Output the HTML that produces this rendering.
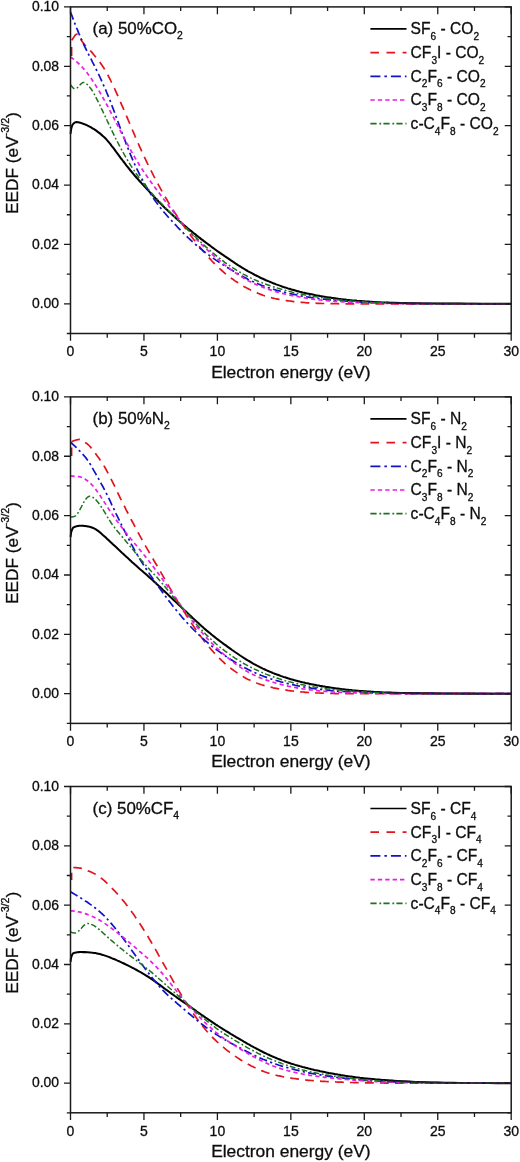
<!DOCTYPE html>
<html><head><meta charset="utf-8"><title>EEDF</title>
<style>html,body{margin:0;padding:0;background:#fff}svg{display:block}text{stroke:#0d0d0d;stroke-width:.3px}</style></head>
<body>
<svg width="520" height="1162" viewBox="0 0 520 1162" font-family="'Liberation Sans', Arial, sans-serif" fill="#0d0d0d">
<rect width="520" height="1162" fill="#fff"/>
<g id="p0">
<clipPath id="c0"><rect x="69.3" y="6.9" width="442.7" height="326.6"/></clipPath>
<g clip-path="url(#c0)" fill="none" stroke-linejoin="round">
<path d="M70.5 134.0 L70.8 131.5 L71.1 129.4 L71.4 128.0 L71.7 126.9 L72.0 126.0 L72.3 125.2 L72.6 124.7 L72.9 124.3 L73.1 124.0 L73.4 123.7 L73.7 123.4 L74.0 123.1 L74.3 122.9 L74.6 122.7 L74.9 122.5 L75.2 122.4 L75.5 122.3 L75.8 122.2 L76.1 122.1 L76.4 122.1 L76.7 122.1 L77.0 122.1 L77.3 122.1 L77.6 122.2 L77.8 122.2 L78.1 122.2 L78.4 122.3 L78.7 122.4 L79.0 122.4 L79.3 122.5 L79.6 122.6 L79.9 122.6 L80.2 122.7 L80.5 122.8 L80.8 122.9 L81.1 123.0 L81.4 123.1 L81.7 123.2 L82.0 123.3 L82.3 123.4 L82.5 123.5 L82.8 123.6 L83.1 123.7 L83.4 123.9 L83.7 124.0 L84.0 124.1 L84.3 124.2 L84.6 124.3 L84.9 124.4 L85.2 124.5 L86.7 125.1 L88.1 125.8 L89.6 126.6 L91.1 127.4 L92.5 128.3 L94.0 129.2 L95.5 130.2 L96.9 131.2 L98.4 132.3 L99.9 133.4 L101.3 134.6 L102.8 135.9 L104.3 137.2 L105.8 138.7 L107.2 140.4 L108.7 142.1 L110.2 143.9 L111.6 145.8 L113.1 147.7 L114.6 149.7 L116.0 151.7 L117.5 153.6 L119.0 155.6 L120.4 157.6 L121.9 159.5 L123.4 161.5 L124.9 163.4 L126.3 165.3 L127.8 167.1 L129.3 169.0 L130.7 170.8 L132.2 172.5 L133.7 174.3 L135.1 176.0 L136.6 177.7 L138.1 179.3 L139.5 181.0 L141.0 182.6 L142.5 184.2 L143.9 185.8 L145.4 187.4 L146.9 189.0 L148.4 190.6 L149.8 192.2 L151.3 193.8 L152.8 195.3 L154.2 196.9 L155.7 198.5 L157.2 200.0 L158.6 201.5 L160.1 203.0 L161.6 204.5 L163.0 206.0 L164.5 207.5 L166.0 208.9 L167.5 210.3 L168.9 211.7 L170.4 213.1 L171.9 214.4 L173.3 215.8 L174.8 217.1 L176.3 218.4 L177.7 219.7 L179.2 221.0 L180.7 222.2 L182.1 223.5 L183.6 224.8 L185.1 226.0 L186.6 227.2 L188.0 228.5 L189.5 229.7 L191.0 230.9 L192.4 232.1 L193.9 233.3 L195.4 234.4 L196.8 235.6 L198.3 236.8 L199.8 237.9 L201.2 239.1 L202.7 240.2 L204.2 241.3 L205.6 242.4 L207.1 243.5 L208.6 244.6 L210.1 245.7 L211.5 246.8 L213.0 247.9 L214.5 249.0 L215.9 250.0 L217.4 251.1 L218.9 252.1 L220.3 253.1 L221.8 254.2 L223.3 255.2 L224.7 256.2 L226.2 257.2 L227.7 258.2 L229.2 259.2 L230.6 260.2 L232.1 261.2 L233.6 262.2 L235.0 263.2 L236.5 264.1 L238.0 265.1 L239.4 266.0 L240.9 266.9 L242.4 267.8 L243.8 268.7 L245.3 269.6 L246.8 270.5 L248.2 271.3 L249.7 272.1 L251.2 272.9 L252.7 273.7 L254.1 274.5 L255.6 275.3 L257.1 276.0 L258.5 276.7 L260.0 277.5 L261.5 278.2 L262.9 278.8 L264.4 279.5 L265.9 280.2 L267.3 280.8 L268.8 281.4 L270.3 282.0 L271.8 282.6 L273.2 283.2 L274.7 283.8 L276.2 284.4 L277.6 284.9 L279.1 285.4 L280.6 285.9 L282.0 286.5 L283.5 287.0 L285.0 287.4 L286.4 287.9 L287.9 288.4 L289.4 288.8 L290.9 289.3 L292.3 289.7 L293.8 290.1 L295.3 290.5 L296.7 290.9 L298.2 291.3 L299.7 291.7 L301.1 292.0 L302.6 292.4 L304.1 292.7 L305.5 293.1 L307.0 293.4 L308.5 293.7 L309.9 294.0 L311.4 294.3 L312.9 294.6 L314.4 294.9 L315.8 295.2 L317.3 295.4 L318.8 295.7 L320.2 296.0 L321.7 296.2 L323.2 296.5 L324.6 296.7 L326.1 297.0 L327.6 297.2 L329.0 297.4 L330.5 297.6 L332.0 297.9 L333.5 298.1 L334.9 298.3 L336.4 298.5 L337.9 298.7 L339.3 298.9 L340.8 299.1 L342.3 299.2 L343.7 299.4 L345.2 299.6 L346.7 299.8 L348.1 299.9 L349.6 300.1 L351.1 300.2 L352.5 300.4 L354.0 300.5 L355.5 300.6 L357.0 300.8 L358.4 300.9 L359.9 301.0 L361.4 301.1 L362.8 301.2 L364.3 301.3 L365.8 301.4 L367.2 301.5 L368.7 301.6 L370.2 301.7 L371.6 301.8 L373.1 301.9 L374.6 302.0 L376.1 302.1 L377.5 302.2 L379.0 302.2 L380.5 302.3 L381.9 302.4 L383.4 302.4 L384.9 302.5 L386.3 302.6 L387.8 302.6 L389.3 302.7 L390.7 302.7 L392.2 302.8 L393.7 302.8 L401.0 303.0 L408.4 303.2 L415.7 303.3 L423.1 303.4 L430.4 303.4 L437.8 303.5 L445.1 303.6 L452.4 303.6 L459.8 303.6 L467.1 303.7 L474.5 303.7 L481.8 303.7 L489.2 303.8 L496.5 303.8 L503.9 303.8 L511.2 303.8" stroke="#000000" stroke-width="2.05"/>
<path d="M71.75 40.15 L72.0 39.8 L72.3 39.4 L72.6 39.0 L72.9 38.6 L73.1 38.2 L73.4 37.8 L73.7 37.4 L74.0 36.9 L74.3 36.4 L74.6 36.0 L74.9 35.6 L75.2 35.2 L75.5 34.8 L75.8 34.6 L76.1 34.4 L76.4 34.3 L76.7 34.2 L77.0 34.1 L77.3 34.0 L77.6 33.9 L77.8 33.9 L78.1 34.0 L78.4 34.4 L78.7 34.9 L79.0 35.6 L79.3 36.3 L79.6 37.0 L79.9 37.8 L80.2 38.4 L80.5 39.0 L80.8 39.4 L81.1 39.9 L81.4 40.3 L81.7 40.8 L82.0 41.2 L82.3 41.6 L82.5 42.0 L82.8 42.4 L83.1 42.7 L83.4 43.1 L83.7 43.5 L84.0 43.8 L84.3 44.2 L84.6 44.6 L84.9 44.9 L85.2 45.3 L86.7 46.9 L88.1 48.5 L89.6 50.0 L91.1 51.4 L92.5 53.1 L94.0 55.0 L95.5 56.8 L96.9 58.5 L98.4 60.3 L99.9 62.2 L101.3 64.3 L102.8 66.5 L104.3 68.8 L105.8 71.3 L107.2 73.9 L108.7 76.7 L110.2 79.5 L111.6 82.5 L113.1 85.6 L114.6 88.7 L116.0 91.9 L117.5 95.2 L119.0 98.5 L120.4 101.9 L121.9 105.3 L123.4 108.7 L124.9 112.1 L126.3 115.6 L127.8 119.1 L129.3 122.5 L130.7 126.0 L132.2 129.5 L133.7 132.9 L135.1 136.3 L136.6 139.7 L138.1 143.1 L139.5 146.4 L141.0 149.7 L142.5 152.9 L143.9 156.1 L145.4 159.2 L146.9 162.3 L148.4 165.3 L149.8 168.3 L151.3 171.2 L152.8 174.1 L154.2 176.9 L155.7 179.7 L157.2 182.5 L158.6 185.2 L160.1 187.9 L161.6 190.6 L163.0 193.2 L164.5 195.8 L166.0 198.3 L167.5 200.8 L168.9 203.3 L170.4 205.7 L171.9 208.1 L173.3 210.4 L174.8 212.7 L176.3 215.0 L177.7 217.2 L179.2 219.4 L180.7 221.6 L182.1 223.7 L183.6 225.8 L185.1 227.9 L186.6 230.0 L188.0 232.0 L189.5 233.9 L191.0 235.9 L192.4 237.8 L193.9 239.7 L195.4 241.6 L196.8 243.4 L198.3 245.3 L199.8 247.1 L201.2 248.8 L202.7 250.6 L204.2 252.3 L205.6 254.0 L207.1 255.7 L208.6 257.3 L210.1 258.9 L211.5 260.5 L213.0 262.1 L214.5 263.6 L215.9 265.0 L217.4 266.5 L218.9 267.9 L220.3 269.2 L221.8 270.5 L223.3 271.8 L224.7 273.1 L226.2 274.3 L227.7 275.4 L229.2 276.6 L230.6 277.7 L232.1 278.8 L233.6 279.8 L235.0 280.9 L236.5 281.8 L238.0 282.8 L239.4 283.8 L240.9 284.7 L242.4 285.5 L243.8 286.4 L245.3 287.2 L246.8 288.1 L248.2 288.8 L249.7 289.6 L251.2 290.3 L252.7 291.0 L254.1 291.7 L255.6 292.3 L257.1 292.9 L258.5 293.5 L260.0 294.1 L261.5 294.6 L262.9 295.2 L264.4 295.7 L265.9 296.1 L267.3 296.6 L268.8 297.0 L270.3 297.4 L271.8 297.8 L273.2 298.1 L274.7 298.5 L276.2 298.8 L277.6 299.1 L279.1 299.4 L280.6 299.7 L282.0 299.9 L283.5 300.2 L285.0 300.4 L286.4 300.6 L287.9 300.8 L289.4 301.0 L290.9 301.2 L292.3 301.4 L293.8 301.6 L295.3 301.7 L296.7 301.9 L298.2 302.0 L299.7 302.2 L301.1 302.3 L302.6 302.4 L304.1 302.5 L305.5 302.7 L307.0 302.8 L308.5 302.8 L309.9 302.9 L311.4 303.0 L312.9 303.1 L314.4 303.2 L315.8 303.2 L317.3 303.3 L318.8 303.4 L320.2 303.4 L321.7 303.5 L323.2 303.5 L324.6 303.5 L326.1 303.6 L327.6 303.6 L329.0 303.6 L330.5 303.7 L332.0 303.7 L333.5 303.7 L334.9 303.7 L336.4 303.7 L337.9 303.7 L339.3 303.8 L340.8 303.8 L342.3 303.8 L343.7 303.8 L345.2 303.8 L346.7 303.8 L348.1 303.8 L349.6 303.8 L351.1 303.8 L352.5 303.8 L354.0 303.8 L355.5 303.8 L357.0 303.8 L358.4 303.8 L359.9 303.8 L361.4 303.8 L362.8 303.8 L364.3 303.8 L365.8 303.8 L367.2 303.8 L368.7 303.8 L370.2 303.8 L371.6 303.8 L373.1 303.8 L374.6 303.8 L376.1 303.8 L377.5 303.8 L379.0 303.8 L380.5 303.8 L381.9 303.8 L383.4 303.8 L384.9 303.8 L386.3 303.8 L387.8 303.8 L389.3 303.8 L390.7 303.8 L392.2 303.8 L393.7 303.8 L401.0 303.8 L408.4 303.8 L415.7 303.8 L423.1 303.8 L430.4 303.8 L437.8 303.8 L445.1 303.8 L452.4 303.8 L459.8 303.8 L467.1 303.8 L474.5 303.8 L481.8 303.8 L489.2 303.8 L496.5 303.8 L503.9 303.8 L511.2 303.8" stroke="#e3141e" stroke-width="1.7" stroke-dasharray="8.8 6.2"/>
<path d="M70.5 11.9 L70.8 12.8 L71.1 13.6 L71.4 14.4 L71.7 15.1 L72.0 15.9 L72.3 16.7 L72.6 17.5 L72.9 18.3 L73.1 19.1 L73.4 19.8 L73.7 20.6 L74.0 21.4 L74.3 22.1 L74.6 22.9 L74.9 23.6 L75.2 24.4 L75.5 25.1 L75.8 25.9 L76.1 26.6 L76.4 27.3 L76.7 28.1 L77.0 28.8 L77.3 29.5 L77.6 30.2 L77.8 30.9 L78.1 31.7 L78.4 32.4 L78.7 33.1 L79.0 33.8 L79.3 34.4 L79.6 35.1 L79.9 35.8 L80.2 36.5 L80.5 37.2 L80.8 37.9 L81.1 38.5 L81.4 39.2 L81.7 39.8 L82.0 40.5 L82.3 41.2 L82.5 41.8 L82.8 42.5 L83.1 43.1 L83.4 43.7 L83.7 44.4 L84.0 45.0 L84.3 45.6 L84.6 46.3 L84.9 46.9 L85.2 47.5 L86.7 50.6 L88.1 53.5 L89.6 56.4 L91.1 59.2 L92.5 62.1 L94.0 64.9 L95.5 67.9 L96.9 70.9 L98.4 73.9 L99.9 77.0 L101.3 80.2 L102.8 83.5 L104.3 86.8 L105.8 90.2 L107.2 93.7 L108.7 97.3 L110.2 101.0 L111.6 104.8 L113.1 108.6 L114.6 112.5 L116.0 116.5 L117.5 120.5 L119.0 124.5 L120.4 128.5 L121.9 132.4 L123.4 136.4 L124.9 140.3 L126.3 144.1 L127.8 147.9 L129.3 151.6 L130.7 155.1 L132.2 158.6 L133.7 162.0 L135.1 165.2 L136.6 168.4 L138.1 171.4 L139.5 174.3 L141.0 177.2 L142.5 180.0 L143.9 182.6 L145.4 185.2 L146.9 187.8 L148.4 190.2 L149.8 192.6 L151.3 194.9 L152.8 197.2 L154.2 199.4 L155.7 201.5 L157.2 203.5 L158.6 205.5 L160.1 207.4 L161.6 209.3 L163.0 211.1 L164.5 212.8 L166.0 214.5 L167.5 216.2 L168.9 217.8 L170.4 219.4 L171.9 221.0 L173.3 222.6 L174.8 224.2 L176.3 225.7 L177.7 227.3 L179.2 228.8 L180.7 230.3 L182.1 231.8 L183.6 233.3 L185.1 234.7 L186.6 236.2 L188.0 237.6 L189.5 239.0 L191.0 240.3 L192.4 241.7 L193.9 243.0 L195.4 244.3 L196.8 245.5 L198.3 246.8 L199.8 248.0 L201.2 249.2 L202.7 250.4 L204.2 251.6 L205.6 252.7 L207.1 253.8 L208.6 254.9 L210.1 256.0 L211.5 257.1 L213.0 258.1 L214.5 259.1 L215.9 260.1 L217.4 261.1 L218.9 262.1 L220.3 263.0 L221.8 264.0 L223.3 264.9 L224.7 265.8 L226.2 266.8 L227.7 267.7 L229.2 268.6 L230.6 269.5 L232.1 270.3 L233.6 271.2 L235.0 272.1 L236.5 272.9 L238.0 273.8 L239.4 274.6 L240.9 275.5 L242.4 276.3 L243.8 277.1 L245.3 277.8 L246.8 278.6 L248.2 279.4 L249.7 280.1 L251.2 280.8 L252.7 281.5 L254.1 282.1 L255.6 282.8 L257.1 283.4 L258.5 284.0 L260.0 284.6 L261.5 285.2 L262.9 285.7 L264.4 286.3 L265.9 286.8 L267.3 287.3 L268.8 287.8 L270.3 288.3 L271.8 288.8 L273.2 289.2 L274.7 289.6 L276.2 290.1 L277.6 290.5 L279.1 290.9 L280.6 291.3 L282.0 291.7 L283.5 292.1 L285.0 292.4 L286.4 292.8 L287.9 293.1 L289.4 293.5 L290.9 293.8 L292.3 294.1 L293.8 294.4 L295.3 294.7 L296.7 295.0 L298.2 295.3 L299.7 295.6 L301.1 295.9 L302.6 296.1 L304.1 296.4 L305.5 296.6 L307.0 296.9 L308.5 297.1 L309.9 297.3 L311.4 297.5 L312.9 297.8 L314.4 298.0 L315.8 298.2 L317.3 298.3 L318.8 298.5 L320.2 298.7 L321.7 298.9 L323.2 299.1 L324.6 299.2 L326.1 299.4 L327.6 299.6 L329.0 299.7 L330.5 299.9 L332.0 300.0 L333.5 300.2 L334.9 300.3 L336.4 300.4 L337.9 300.5 L339.3 300.7 L340.8 300.8 L342.3 300.9 L343.7 301.0 L345.2 301.1 L346.7 301.2 L348.1 301.3 L349.6 301.4 L351.1 301.5 L352.5 301.6 L354.0 301.7 L355.5 301.8 L357.0 301.8 L358.4 301.9 L359.9 302.0 L361.4 302.1 L362.8 302.1 L364.3 302.2 L365.8 302.3 L367.2 302.4 L368.7 302.4 L370.2 302.5 L371.6 302.5 L373.1 302.6 L374.6 302.6 L376.1 302.7 L377.5 302.7 L379.0 302.8 L380.5 302.8 L381.9 302.9 L383.4 302.9 L384.9 303.0 L386.3 303.0 L387.8 303.0 L389.3 303.1 L390.7 303.1 L392.2 303.2 L393.7 303.2 L401.0 303.3 L408.4 303.5 L415.7 303.6 L423.1 303.7 L430.4 303.7 L437.8 303.8 L445.1 303.8 L452.4 303.8 L459.8 303.8 L467.1 303.8 L474.5 303.8 L481.8 303.8 L489.2 303.8 L496.5 303.8 L503.9 303.8 L511.2 303.8" stroke="#1212c8" stroke-width="1.7" stroke-dasharray="8.2 3.3 2.2 3.3"/>
<path d="M70.5 57.1 L70.8 57.3 L71.1 57.5 L71.4 57.6 L71.7 57.8 L72.0 58.0 L72.3 58.3 L72.6 58.5 L72.9 58.7 L73.1 58.9 L73.4 59.1 L73.7 59.3 L74.0 59.6 L74.3 59.8 L74.6 60.0 L74.9 60.3 L75.2 60.5 L75.5 60.8 L75.8 61.0 L76.1 61.3 L76.4 61.5 L76.7 61.8 L77.0 62.0 L77.3 62.3 L77.6 62.6 L77.8 62.8 L78.1 63.1 L78.4 63.4 L78.7 63.7 L79.0 64.0 L79.3 64.2 L79.6 64.5 L79.9 64.8 L80.2 65.1 L80.5 65.4 L80.8 65.7 L81.1 66.0 L81.4 66.3 L81.7 66.6 L82.0 66.9 L82.3 67.2 L82.5 67.6 L82.8 67.9 L83.1 68.2 L83.4 68.5 L83.7 68.8 L84.0 69.2 L84.3 69.5 L84.6 69.8 L84.9 70.2 L85.2 70.5 L86.7 72.3 L88.1 74.2 L89.6 76.2 L91.1 78.3 L92.5 80.5 L94.0 82.8 L95.5 85.1 L96.9 87.5 L98.4 89.9 L99.9 92.4 L101.3 94.9 L102.8 97.5 L104.3 100.1 L105.8 102.8 L107.2 105.5 L108.7 108.3 L110.2 111.1 L111.6 113.9 L113.1 116.7 L114.6 119.5 L116.0 122.4 L117.5 125.2 L119.0 128.0 L120.4 130.9 L121.9 133.7 L123.4 136.5 L124.9 139.3 L126.3 142.0 L127.8 144.8 L129.3 147.5 L130.7 150.1 L132.2 152.8 L133.7 155.3 L135.1 157.9 L136.6 160.4 L138.1 162.8 L139.5 165.2 L141.0 167.5 L142.5 169.8 L143.9 172.0 L145.4 174.2 L146.9 176.3 L148.4 178.4 L149.8 180.4 L151.3 182.4 L152.8 184.4 L154.2 186.4 L155.7 188.4 L157.2 190.4 L158.6 192.3 L160.1 194.3 L161.6 196.3 L163.0 198.2 L164.5 200.2 L166.0 202.2 L167.5 204.1 L168.9 206.1 L170.4 208.0 L171.9 209.9 L173.3 211.8 L174.8 213.7 L176.3 215.6 L177.7 217.5 L179.2 219.3 L180.7 221.2 L182.1 223.0 L183.6 224.8 L185.1 226.5 L186.6 228.3 L188.0 230.0 L189.5 231.6 L191.0 233.3 L192.4 234.9 L193.9 236.5 L195.4 238.1 L196.8 239.6 L198.3 241.1 L199.8 242.6 L201.2 244.1 L202.7 245.5 L204.2 246.9 L205.6 248.3 L207.1 249.7 L208.6 251.1 L210.1 252.4 L211.5 253.7 L213.0 255.0 L214.5 256.3 L215.9 257.5 L217.4 258.8 L218.9 260.0 L220.3 261.2 L221.8 262.4 L223.3 263.6 L224.7 264.8 L226.2 266.0 L227.7 267.1 L229.2 268.2 L230.6 269.3 L232.1 270.4 L233.6 271.5 L235.0 272.5 L236.5 273.5 L238.0 274.5 L239.4 275.5 L240.9 276.4 L242.4 277.3 L243.8 278.2 L245.3 279.0 L246.8 279.9 L248.2 280.7 L249.7 281.4 L251.2 282.2 L252.7 282.9 L254.1 283.6 L255.6 284.3 L257.1 284.9 L258.5 285.5 L260.0 286.2 L261.5 286.7 L262.9 287.3 L264.4 287.9 L265.9 288.4 L267.3 288.9 L268.8 289.4 L270.3 289.9 L271.8 290.4 L273.2 290.8 L274.7 291.3 L276.2 291.7 L277.6 292.1 L279.1 292.5 L280.6 292.9 L282.0 293.3 L283.5 293.6 L285.0 294.0 L286.4 294.3 L287.9 294.6 L289.4 295.0 L290.9 295.3 L292.3 295.6 L293.8 295.9 L295.3 296.2 L296.7 296.4 L298.2 296.7 L299.7 297.0 L301.1 297.2 L302.6 297.5 L304.1 297.7 L305.5 298.0 L307.0 298.2 L308.5 298.4 L309.9 298.6 L311.4 298.9 L312.9 299.1 L314.4 299.3 L315.8 299.5 L317.3 299.6 L318.8 299.8 L320.2 300.0 L321.7 300.1 L323.2 300.3 L324.6 300.4 L326.1 300.6 L327.6 300.7 L329.0 300.9 L330.5 301.0 L332.0 301.1 L333.5 301.2 L334.9 301.3 L336.4 301.4 L337.9 301.5 L339.3 301.6 L340.8 301.7 L342.3 301.8 L343.7 301.9 L345.2 302.0 L346.7 302.1 L348.1 302.2 L349.6 302.2 L351.1 302.3 L352.5 302.4 L354.0 302.4 L355.5 302.5 L357.0 302.6 L358.4 302.6 L359.9 302.7 L361.4 302.7 L362.8 302.8 L364.3 302.8 L365.8 302.9 L367.2 302.9 L368.7 303.0 L370.2 303.0 L371.6 303.1 L373.1 303.1 L374.6 303.1 L376.1 303.2 L377.5 303.2 L379.0 303.2 L380.5 303.3 L381.9 303.3 L383.4 303.3 L384.9 303.3 L386.3 303.4 L387.8 303.4 L389.3 303.4 L390.7 303.4 L392.2 303.5 L393.7 303.5 L401.0 303.6 L408.4 303.6 L415.7 303.7 L423.1 303.7 L430.4 303.8 L437.8 303.8 L445.1 303.8 L452.4 303.8 L459.8 303.8 L467.1 303.8 L474.5 303.8 L481.8 303.8 L489.2 303.8 L496.5 303.8 L503.9 303.8 L511.2 303.8" stroke="#e81ee8" stroke-width="1.7" stroke-dasharray="4.2 3.2"/>
<path d="M70.5 84.7 L70.8 85.1 L71.1 85.5 L71.4 85.9 L71.7 86.3 L72.0 86.7 L72.3 87.1 L72.6 87.4 L72.9 87.7 L73.1 88.0 L73.4 88.2 L73.7 88.4 L74.0 88.6 L74.3 88.7 L74.6 88.8 L74.9 88.8 L75.2 88.8 L75.5 88.8 L75.8 88.7 L76.1 88.6 L76.4 88.4 L76.7 88.3 L77.0 88.0 L77.3 87.8 L77.6 87.5 L77.8 87.3 L78.1 87.0 L78.4 86.6 L78.7 86.3 L79.0 86.0 L79.3 85.7 L79.6 85.3 L79.9 85.0 L80.2 84.7 L80.5 84.4 L80.8 84.1 L81.1 83.8 L81.4 83.5 L81.7 83.3 L82.0 83.1 L82.3 82.9 L82.5 82.7 L82.8 82.6 L83.1 82.6 L83.4 82.5 L83.7 82.5 L84.0 82.6 L84.3 82.6 L84.6 82.7 L84.9 82.9 L85.2 83.0 L86.7 84.0 L88.1 85.4 L89.6 87.1 L91.1 89.0 L92.5 91.2 L94.0 93.7 L95.5 96.5 L96.9 99.3 L98.4 102.2 L99.9 105.2 L101.3 108.3 L102.8 111.4 L104.3 114.5 L105.8 117.7 L107.2 120.8 L108.7 123.9 L110.2 127.0 L111.6 130.1 L113.1 133.2 L114.6 136.2 L116.0 139.1 L117.5 142.0 L119.0 144.8 L120.4 147.6 L121.9 150.3 L123.4 153.0 L124.9 155.6 L126.3 158.2 L127.8 160.7 L129.3 163.1 L130.7 165.4 L132.2 167.7 L133.7 169.9 L135.1 172.1 L136.6 174.2 L138.1 176.3 L139.5 178.3 L141.0 180.2 L142.5 182.1 L143.9 184.0 L145.4 185.8 L146.9 187.6 L148.4 189.3 L149.8 191.1 L151.3 192.7 L152.8 194.4 L154.2 196.0 L155.7 197.6 L157.2 199.2 L158.6 200.7 L160.1 202.3 L161.6 203.8 L163.0 205.3 L164.5 206.7 L166.0 208.2 L167.5 209.6 L168.9 211.1 L170.4 212.6 L171.9 214.0 L173.3 215.5 L174.8 216.9 L176.3 218.4 L177.7 219.8 L179.2 221.3 L180.7 222.7 L182.1 224.2 L183.6 225.6 L185.1 227.1 L186.6 228.5 L188.0 230.0 L189.5 231.4 L191.0 232.8 L192.4 234.2 L193.9 235.6 L195.4 237.0 L196.8 238.4 L198.3 239.8 L199.8 241.2 L201.2 242.5 L202.7 243.9 L204.2 245.2 L205.6 246.6 L207.1 247.9 L208.6 249.2 L210.1 250.5 L211.5 251.7 L213.0 253.0 L214.5 254.2 L215.9 255.4 L217.4 256.6 L218.9 257.8 L220.3 258.9 L221.8 260.1 L223.3 261.2 L224.7 262.3 L226.2 263.3 L227.7 264.4 L229.2 265.4 L230.6 266.4 L232.1 267.4 L233.6 268.3 L235.0 269.2 L236.5 270.2 L238.0 271.1 L239.4 271.9 L240.9 272.8 L242.4 273.6 L243.8 274.4 L245.3 275.2 L246.8 276.0 L248.2 276.7 L249.7 277.4 L251.2 278.2 L252.7 278.8 L254.1 279.5 L255.6 280.1 L257.1 280.8 L258.5 281.4 L260.0 282.0 L261.5 282.5 L262.9 283.1 L264.4 283.7 L265.9 284.2 L267.3 284.7 L268.8 285.2 L270.3 285.7 L271.8 286.2 L273.2 286.7 L274.7 287.2 L276.2 287.6 L277.6 288.1 L279.1 288.5 L280.6 289.0 L282.0 289.4 L283.5 289.8 L285.0 290.2 L286.4 290.6 L287.9 291.0 L289.4 291.4 L290.9 291.8 L292.3 292.2 L293.8 292.5 L295.3 292.9 L296.7 293.2 L298.2 293.5 L299.7 293.8 L301.1 294.1 L302.6 294.4 L304.1 294.7 L305.5 295.0 L307.0 295.3 L308.5 295.5 L309.9 295.8 L311.4 296.1 L312.9 296.3 L314.4 296.5 L315.8 296.8 L317.3 297.0 L318.8 297.2 L320.2 297.5 L321.7 297.7 L323.2 297.9 L324.6 298.1 L326.1 298.3 L327.6 298.5 L329.0 298.7 L330.5 298.9 L332.0 299.1 L333.5 299.2 L334.9 299.4 L336.4 299.6 L337.9 299.7 L339.3 299.9 L340.8 300.0 L342.3 300.2 L343.7 300.3 L345.2 300.4 L346.7 300.6 L348.1 300.7 L349.6 300.8 L351.1 300.9 L352.5 301.1 L354.0 301.2 L355.5 301.3 L357.0 301.4 L358.4 301.5 L359.9 301.6 L361.4 301.7 L362.8 301.8 L364.3 301.9 L365.8 302.0 L367.2 302.1 L368.7 302.2 L370.2 302.2 L371.6 302.3 L373.1 302.4 L374.6 302.5 L376.1 302.5 L377.5 302.6 L379.0 302.7 L380.5 302.7 L381.9 302.8 L383.4 302.8 L384.9 302.9 L386.3 302.9 L387.8 303.0 L389.3 303.0 L390.7 303.1 L392.2 303.1 L393.7 303.2 L401.0 303.3 L408.4 303.5 L415.7 303.6 L423.1 303.7 L430.4 303.7 L437.8 303.8 L445.1 303.8 L452.4 303.8 L459.8 303.8 L467.1 303.8 L474.5 303.8 L481.8 303.8 L489.2 303.8 L496.5 303.8 L503.9 303.8 L511.2 303.8" stroke="#1c741c" stroke-width="1.5" stroke-dasharray="5.8 2.5 1.8 2.2"/>
<path d="M386.3 302.7 L393.7 302.9 L401.0 303.1 L408.4 303.2 L415.7 303.3 L423.1 303.4 L430.4 303.5 L437.8 303.5 L445.1 303.6 L452.4 303.6 L459.8 303.6 L467.1 303.7 L474.5 303.7 L481.8 303.8 L489.2 303.8 L496.5 303.8 L503.9 303.8 L511.2 303.8" stroke="#14141e" stroke-width="1.7" stroke-opacity="0.72"/>
<path d="M71.4 55.9V47.0" stroke="#cc0512" stroke-width="2"/>
</g>
<g stroke="#1a1a1a" stroke-width="1.5" fill="none">
<rect x="70.5" y="6.9" width="440.7" height="326.6"/>
<path d="M70.50 333.5v7.3M70.50 6.9v7.3M107.22 333.5v4.2M107.22 6.9v4.2M143.95 333.5v7.3M143.95 6.9v7.3M180.68 333.5v4.2M180.68 6.9v4.2M217.40 333.5v7.3M217.40 6.9v7.3M254.12 333.5v4.2M254.12 6.9v4.2M290.85 333.5v7.3M290.85 6.9v7.3M327.57 333.5v4.2M327.57 6.9v4.2M364.30 333.5v7.3M364.30 6.9v7.3M401.02 333.5v4.2M401.02 6.9v4.2M437.75 333.5v7.3M437.75 6.9v7.3M474.47 333.5v4.2M474.47 6.9v4.2M511.20 333.5v7.3M511.20 6.9v7.3M70.5 333.50h-3.7M511.2 333.50h-3.7M70.5 303.81h-6.5M511.2 303.81h-6.5M70.5 274.12h-3.7M511.2 274.12h-3.7M70.5 244.43h-6.5M511.2 244.43h-6.5M70.5 214.74h-3.7M511.2 214.74h-3.7M70.5 185.05h-6.5M511.2 185.05h-6.5M70.5 155.35h-3.7M511.2 155.35h-3.7M70.5 125.66h-6.5M511.2 125.66h-6.5M70.5 95.97h-3.7M511.2 95.97h-3.7M70.5 66.28h-6.5M511.2 66.28h-6.5M70.5 36.59h-3.7M511.2 36.59h-3.7M70.5 6.90h-6.5M511.2 6.90h-6.5" stroke-width="1.3"/>
</g>
<g font-size="14" text-anchor="middle">
<text x="70.5" y="356.3">0</text>
<text x="143.9" y="356.3">5</text>
<text x="217.4" y="356.3">10</text>
<text x="290.9" y="356.3">15</text>
<text x="364.3" y="356.3">20</text>
<text x="437.8" y="356.3">25</text>
<text x="511.2" y="356.3">30</text>
</g>
<g font-size="13.9" text-anchor="end">
<text x="59" y="308.1">0.00</text>
<text x="59" y="248.7">0.02</text>
<text x="59" y="189.3">0.04</text>
<text x="59" y="130.0">0.06</text>
<text x="59" y="70.6">0.08</text>
<text x="59" y="11.2">0.10</text>
</g>
<text x="290.9" y="377.5" font-size="17.4" text-anchor="middle">Electron energy (eV)</text>
<text transform="translate(17.7 163.1) rotate(-90)" font-size="17.3" text-anchor="middle">EEDF (eV<tspan font-size="10.7" dy="-9">-3/2</tspan><tspan dy="9">)</tspan></text>
<text x="92.6" y="33.9" font-size="16.9">(a) 50%CO<tspan font-size="10.4" dy="5.4">2</tspan></text>
<path d="M370.4 28.9H406.5" stroke="#000000" stroke-width="1.7" fill="none"/>
<text x="410.6" y="34.2" font-size="15.6">SF<tspan font-size="10.1" dy="5.8">6</tspan><tspan dy="-5.8"> - CO</tspan><tspan font-size="10.1" dy="5.8">2</tspan></text>
<path d="M370.4 52.6H406.5" stroke="#e3141e" stroke-width="1.7" fill="none" stroke-dasharray="8.6 7.5"/>
<text x="410.6" y="57.9" font-size="15.6">CF<tspan font-size="10.1" dy="5.8">3</tspan><tspan dy="-5.8">I</tspan> - CO<tspan font-size="10.1" dy="5.8">2</tspan></text>
<path d="M370.4 76.3H406.5" stroke="#1212c8" stroke-width="1.7" fill="none" stroke-dasharray="10 4 2.5 4"/>
<text x="410.6" y="81.6" font-size="15.6">C<tspan font-size="10.1" dy="5.8">2</tspan><tspan dy="-5.8">F</tspan><tspan font-size="10.1" dy="5.8">6</tspan><tspan dy="-5.8"> - CO</tspan><tspan font-size="10.1" dy="5.8">2</tspan></text>
<path d="M370.4 100.0H406.5" stroke="#e81ee8" stroke-width="1.7" fill="none" stroke-dasharray="4.4 3"/>
<text x="410.6" y="105.3" font-size="15.6">C<tspan font-size="10.1" dy="5.8">3</tspan><tspan dy="-5.8">F</tspan><tspan font-size="10.1" dy="5.8">8</tspan><tspan dy="-5.8"> - CO</tspan><tspan font-size="10.1" dy="5.8">2</tspan></text>
<path d="M370.4 123.7H406.5" stroke="#1c741c" stroke-width="1.7" fill="none" stroke-dasharray="6.2 2.8 1.8 2.2"/>
<text x="410.6" y="129.0" font-size="15.6">c-C<tspan font-size="10.1" dy="5.8">4</tspan><tspan dy="-5.8">F</tspan><tspan font-size="10.1" dy="5.8">8</tspan><tspan dy="-5.8"> - CO</tspan><tspan font-size="10.1" dy="5.8">2</tspan></text>
</g>
<g id="p1">
<clipPath id="c1"><rect x="69.3" y="396.9" width="442.7" height="326.5"/></clipPath>
<g clip-path="url(#c1)" fill="none" stroke-linejoin="round">
<path d="M70.5 537.0 L70.8 534.6 L71.1 532.6 L71.4 531.5 L71.7 530.6 L72.0 529.8 L72.3 529.1 L72.6 528.5 L72.9 528.0 L73.1 527.7 L73.4 527.5 L73.7 527.4 L74.0 527.2 L74.3 527.1 L74.6 527.0 L74.9 526.8 L75.2 526.7 L75.5 526.6 L75.8 526.5 L76.1 526.4 L76.4 526.3 L76.7 526.3 L77.0 526.2 L77.3 526.1 L77.6 526.0 L77.8 526.0 L78.1 525.9 L78.4 525.9 L78.7 525.9 L79.0 525.8 L79.3 525.8 L79.6 525.8 L79.9 525.7 L80.2 525.7 L80.5 525.7 L80.8 525.7 L81.1 525.7 L81.4 525.7 L81.7 525.7 L82.0 525.8 L82.3 525.8 L82.5 525.8 L82.8 525.8 L83.1 525.8 L83.4 525.8 L83.7 525.9 L84.0 525.9 L84.3 525.9 L84.6 526.0 L84.9 526.0 L85.2 526.0 L86.7 526.2 L88.1 526.5 L89.6 526.8 L91.1 527.2 L92.5 527.7 L94.0 528.4 L95.5 529.2 L96.9 530.1 L98.4 531.2 L99.9 532.3 L101.3 533.6 L102.8 534.9 L104.3 536.2 L105.8 537.6 L107.2 538.9 L108.7 540.3 L110.2 541.7 L111.6 543.0 L113.1 544.4 L114.6 545.8 L116.0 547.1 L117.5 548.5 L119.0 549.9 L120.4 551.3 L121.9 552.7 L123.4 554.0 L124.9 555.4 L126.3 556.8 L127.8 558.1 L129.3 559.5 L130.7 560.8 L132.2 562.2 L133.7 563.5 L135.1 564.8 L136.6 566.1 L138.1 567.4 L139.5 568.7 L141.0 570.0 L142.5 571.2 L143.9 572.5 L145.4 573.8 L146.9 575.1 L148.4 576.4 L149.8 577.7 L151.3 579.0 L152.8 580.3 L154.2 581.7 L155.7 583.0 L157.2 584.4 L158.6 585.8 L160.1 587.1 L161.6 588.5 L163.0 589.9 L164.5 591.3 L166.0 592.7 L167.5 594.1 L168.9 595.5 L170.4 596.9 L171.9 598.3 L173.3 599.7 L174.8 601.1 L176.3 602.4 L177.7 603.8 L179.2 605.2 L180.7 606.6 L182.1 608.0 L183.6 609.4 L185.1 610.8 L186.6 612.1 L188.0 613.5 L189.5 614.9 L191.0 616.3 L192.4 617.7 L193.9 619.1 L195.4 620.4 L196.8 621.8 L198.3 623.1 L199.8 624.5 L201.2 625.8 L202.7 627.1 L204.2 628.4 L205.6 629.6 L207.1 630.9 L208.6 632.1 L210.1 633.3 L211.5 634.5 L213.0 635.7 L214.5 636.9 L215.9 638.0 L217.4 639.2 L218.9 640.3 L220.3 641.4 L221.8 642.5 L223.3 643.6 L224.7 644.7 L226.2 645.7 L227.7 646.8 L229.2 647.9 L230.6 648.9 L232.1 650.0 L233.6 651.0 L235.0 652.0 L236.5 653.0 L238.0 654.0 L239.4 655.0 L240.9 656.0 L242.4 657.0 L243.8 657.9 L245.3 658.8 L246.8 659.8 L248.2 660.7 L249.7 661.5 L251.2 662.4 L252.7 663.3 L254.1 664.1 L255.6 664.9 L257.1 665.7 L258.5 666.4 L260.0 667.2 L261.5 667.9 L262.9 668.6 L264.4 669.3 L265.9 670.0 L267.3 670.6 L268.8 671.3 L270.3 671.9 L271.8 672.5 L273.2 673.1 L274.7 673.7 L276.2 674.3 L277.6 674.8 L279.1 675.3 L280.6 675.9 L282.0 676.4 L283.5 676.9 L285.0 677.3 L286.4 677.8 L287.9 678.3 L289.4 678.7 L290.9 679.2 L292.3 679.6 L293.8 680.0 L295.3 680.4 L296.7 680.8 L298.2 681.2 L299.7 681.6 L301.1 681.9 L302.6 682.3 L304.1 682.6 L305.5 683.0 L307.0 683.3 L308.5 683.6 L309.9 683.9 L311.4 684.2 L312.9 684.5 L314.4 684.8 L315.8 685.1 L317.3 685.4 L318.8 685.6 L320.2 685.9 L321.7 686.1 L323.2 686.4 L324.6 686.6 L326.1 686.9 L327.6 687.1 L329.0 687.3 L330.5 687.6 L332.0 687.8 L333.5 688.0 L334.9 688.2 L336.4 688.4 L337.9 688.6 L339.3 688.8 L340.8 689.0 L342.3 689.2 L343.7 689.3 L345.2 689.5 L346.7 689.7 L348.1 689.8 L349.6 690.0 L351.1 690.1 L352.5 690.3 L354.0 690.4 L355.5 690.5 L357.0 690.7 L358.4 690.8 L359.9 690.9 L361.4 691.0 L362.8 691.1 L364.3 691.2 L365.8 691.3 L367.2 691.4 L368.7 691.5 L370.2 691.6 L371.6 691.7 L373.1 691.8 L374.6 691.9 L376.1 692.0 L377.5 692.1 L379.0 692.1 L380.5 692.2 L381.9 692.3 L383.4 692.4 L384.9 692.4 L386.3 692.5 L387.8 692.5 L389.3 692.6 L390.7 692.6 L392.2 692.7 L393.7 692.7 L401.0 692.9 L408.4 693.1 L415.7 693.2 L423.1 693.3 L430.4 693.3 L437.8 693.4 L445.1 693.5 L452.4 693.5 L459.8 693.6 L467.1 693.6 L474.5 693.6 L481.8 693.7 L489.2 693.7 L496.5 693.7 L503.9 693.7 L511.2 693.7" stroke="#000000" stroke-width="2.05"/>
<path d="M71.53 441.72 L71.7 441.7 L72.0 441.5 L72.3 441.4 L72.6 441.3 L72.9 441.1 L73.1 441.0 L73.4 440.9 L73.7 440.8 L74.0 440.7 L74.3 440.6 L74.6 440.5 L74.9 440.4 L75.2 440.3 L75.5 440.2 L75.8 440.1 L76.1 440.0 L76.4 439.9 L76.7 439.9 L77.0 439.8 L77.3 439.8 L77.6 439.7 L77.8 439.6 L78.1 439.6 L78.4 439.5 L78.7 439.5 L79.0 439.4 L79.3 439.4 L79.6 439.4 L79.9 439.4 L80.2 439.4 L80.5 439.4 L80.8 439.5 L81.1 439.7 L81.4 439.9 L81.7 440.2 L82.0 440.4 L82.3 440.7 L82.5 440.9 L82.8 441.1 L83.1 441.2 L83.4 441.4 L83.7 441.6 L84.0 441.8 L84.3 441.9 L84.6 442.1 L84.9 442.3 L85.2 442.5 L86.7 443.4 L88.1 444.6 L89.6 446.0 L91.1 447.8 L92.5 449.7 L94.0 451.6 L95.5 453.5 L96.9 455.5 L98.4 457.5 L99.9 459.6 L101.3 461.8 L102.8 464.1 L104.3 466.4 L105.8 469.0 L107.2 471.6 L108.7 474.4 L110.2 477.3 L111.6 480.2 L113.1 483.2 L114.6 486.2 L116.0 489.3 L117.5 492.3 L119.0 495.3 L120.4 498.3 L121.9 501.3 L123.4 504.3 L124.9 507.2 L126.3 510.1 L127.8 513.0 L129.3 515.8 L130.7 518.7 L132.2 521.5 L133.7 524.2 L135.1 527.0 L136.6 529.8 L138.1 532.5 L139.5 535.2 L141.0 537.9 L142.5 540.6 L143.9 543.2 L145.4 545.8 L146.9 548.4 L148.4 550.9 L149.8 553.5 L151.3 556.0 L152.8 558.5 L154.2 561.0 L155.7 563.5 L157.2 566.0 L158.6 568.5 L160.1 571.0 L161.6 573.6 L163.0 576.1 L164.5 578.7 L166.0 581.3 L167.5 583.8 L168.9 586.4 L170.4 588.9 L171.9 591.5 L173.3 594.0 L174.8 596.5 L176.3 599.0 L177.7 601.5 L179.2 603.9 L180.7 606.4 L182.1 608.7 L183.6 611.1 L185.1 613.4 L186.6 615.7 L188.0 618.0 L189.5 620.2 L191.0 622.4 L192.4 624.6 L193.9 626.8 L195.4 628.9 L196.8 631.0 L198.3 633.0 L199.8 635.0 L201.2 637.0 L202.7 639.0 L204.2 640.9 L205.6 642.8 L207.1 644.6 L208.6 646.4 L210.1 648.2 L211.5 649.9 L213.0 651.5 L214.5 653.2 L215.9 654.7 L217.4 656.3 L218.9 657.7 L220.3 659.2 L221.8 660.6 L223.3 661.9 L224.7 663.3 L226.2 664.5 L227.7 665.8 L229.2 667.0 L230.6 668.1 L232.1 669.3 L233.6 670.4 L235.0 671.4 L236.5 672.4 L238.0 673.4 L239.4 674.4 L240.9 675.3 L242.4 676.2 L243.8 677.1 L245.3 677.9 L246.8 678.7 L248.2 679.4 L249.7 680.1 L251.2 680.8 L252.7 681.4 L254.1 682.1 L255.6 682.6 L257.1 683.2 L258.5 683.7 L260.0 684.2 L261.5 684.7 L262.9 685.1 L264.4 685.6 L265.9 686.0 L267.3 686.4 L268.8 686.7 L270.3 687.1 L271.8 687.4 L273.2 687.8 L274.7 688.1 L276.2 688.4 L277.6 688.7 L279.1 688.9 L280.6 689.2 L282.0 689.4 L283.5 689.7 L285.0 689.9 L286.4 690.1 L287.9 690.4 L289.4 690.6 L290.9 690.8 L292.3 691.0 L293.8 691.1 L295.3 691.3 L296.7 691.5 L298.2 691.6 L299.7 691.8 L301.1 691.9 L302.6 692.0 L304.1 692.1 L305.5 692.3 L307.0 692.4 L308.5 692.5 L309.9 692.6 L311.4 692.7 L312.9 692.7 L314.4 692.8 L315.8 692.9 L317.3 693.0 L318.8 693.0 L320.2 693.1 L321.7 693.2 L323.2 693.2 L324.6 693.3 L326.1 693.3 L327.6 693.4 L329.0 693.4 L330.5 693.5 L332.0 693.5 L333.5 693.5 L334.9 693.6 L336.4 693.6 L337.9 693.6 L339.3 693.6 L340.8 693.6 L342.3 693.7 L343.7 693.7 L345.2 693.7 L346.7 693.7 L348.1 693.7 L349.6 693.7 L351.1 693.7 L352.5 693.7 L354.0 693.7 L355.5 693.7 L357.0 693.7 L358.4 693.7 L359.9 693.7 L361.4 693.7 L362.8 693.7 L364.3 693.7 L365.8 693.7 L367.2 693.7 L368.7 693.7 L370.2 693.7 L371.6 693.7 L373.1 693.7 L374.6 693.7 L376.1 693.7 L377.5 693.7 L379.0 693.7 L380.5 693.7 L381.9 693.7 L383.4 693.7 L384.9 693.7 L386.3 693.7 L387.8 693.7 L389.3 693.7 L390.7 693.7 L392.2 693.7 L393.7 693.7 L401.0 693.7 L408.4 693.7 L415.7 693.7 L423.1 693.7 L430.4 693.7 L437.8 693.7 L445.1 693.7 L452.4 693.7 L459.8 693.7 L467.1 693.7 L474.5 693.7 L481.8 693.7 L489.2 693.7 L496.5 693.7 L503.9 693.7 L511.2 693.7" stroke="#e3141e" stroke-width="1.7" stroke-dasharray="8.8 6.2"/>
<path d="M70.5 442.3 L70.8 442.6 L71.1 442.8 L71.4 443.0 L71.7 443.3 L72.0 443.5 L72.3 443.8 L72.6 444.1 L72.9 444.3 L73.1 444.6 L73.4 444.8 L73.7 445.1 L74.0 445.4 L74.3 445.7 L74.6 445.9 L74.9 446.2 L75.2 446.5 L75.5 446.8 L75.8 447.0 L76.1 447.3 L76.4 447.6 L76.7 447.9 L77.0 448.2 L77.3 448.5 L77.6 448.8 L77.8 449.1 L78.1 449.4 L78.4 449.7 L78.7 450.0 L79.0 450.3 L79.3 450.6 L79.6 450.9 L79.9 451.2 L80.2 451.5 L80.5 451.8 L80.8 452.1 L81.1 452.4 L81.4 452.7 L81.7 453.1 L82.0 453.4 L82.3 453.7 L82.5 454.0 L82.8 454.3 L83.1 454.7 L83.4 455.0 L83.7 455.3 L84.0 455.7 L84.3 456.0 L84.6 456.3 L84.9 456.7 L85.2 457.0 L86.7 458.9 L88.1 460.9 L89.6 463.1 L91.1 465.6 L92.5 468.2 L94.0 470.8 L95.5 473.4 L96.9 476.0 L98.4 478.5 L99.9 481.1 L101.3 483.8 L102.8 486.5 L104.3 489.3 L105.8 492.1 L107.2 495.1 L108.7 498.1 L110.2 501.2 L111.6 504.3 L113.1 507.4 L114.6 510.5 L116.0 513.6 L117.5 516.6 L119.0 519.7 L120.4 522.7 L121.9 525.6 L123.4 528.6 L124.9 531.6 L126.3 534.5 L127.8 537.3 L129.3 540.2 L130.7 543.0 L132.2 545.7 L133.7 548.4 L135.1 551.0 L136.6 553.6 L138.1 556.1 L139.5 558.6 L141.0 561.0 L142.5 563.3 L143.9 565.6 L145.4 567.8 L146.9 570.0 L148.4 572.2 L149.8 574.4 L151.3 576.5 L152.8 578.6 L154.2 580.7 L155.7 582.7 L157.2 584.8 L158.6 586.8 L160.1 588.9 L161.6 590.9 L163.0 592.9 L164.5 595.0 L166.0 596.9 L167.5 598.9 L168.9 600.9 L170.4 602.8 L171.9 604.7 L173.3 606.6 L174.8 608.4 L176.3 610.2 L177.7 612.0 L179.2 613.8 L180.7 615.5 L182.1 617.3 L183.6 618.9 L185.1 620.6 L186.6 622.2 L188.0 623.8 L189.5 625.4 L191.0 627.0 L192.4 628.5 L193.9 630.0 L195.4 631.4 L196.8 632.9 L198.3 634.3 L199.8 635.7 L201.2 637.0 L202.7 638.4 L204.2 639.7 L205.6 641.0 L207.1 642.2 L208.6 643.5 L210.1 644.7 L211.5 645.8 L213.0 647.0 L214.5 648.1 L215.9 649.2 L217.4 650.3 L218.9 651.4 L220.3 652.4 L221.8 653.5 L223.3 654.5 L224.7 655.5 L226.2 656.5 L227.7 657.5 L229.2 658.4 L230.6 659.4 L232.1 660.3 L233.6 661.2 L235.0 662.1 L236.5 663.0 L238.0 663.9 L239.4 664.8 L240.9 665.6 L242.4 666.4 L243.8 667.2 L245.3 668.0 L246.8 668.8 L248.2 669.6 L249.7 670.3 L251.2 671.0 L252.7 671.7 L254.1 672.4 L255.6 673.0 L257.1 673.7 L258.5 674.3 L260.0 674.9 L261.5 675.5 L262.9 676.0 L264.4 676.6 L265.9 677.1 L267.3 677.7 L268.8 678.2 L270.3 678.7 L271.8 679.1 L273.2 679.6 L274.7 680.1 L276.2 680.5 L277.6 680.9 L279.1 681.3 L280.6 681.8 L282.0 682.1 L283.5 682.5 L285.0 682.9 L286.4 683.3 L287.9 683.6 L289.4 684.0 L290.9 684.3 L292.3 684.6 L293.8 684.9 L295.3 685.3 L296.7 685.6 L298.2 685.9 L299.7 686.1 L301.1 686.4 L302.6 686.7 L304.1 687.0 L305.5 687.2 L307.0 687.5 L308.5 687.7 L309.9 687.9 L311.4 688.2 L312.9 688.4 L314.4 688.6 L315.8 688.8 L317.3 689.0 L318.8 689.2 L320.2 689.4 L321.7 689.5 L323.2 689.7 L324.6 689.9 L326.1 690.0 L327.6 690.2 L329.0 690.3 L330.5 690.5 L332.0 690.6 L333.5 690.7 L334.9 690.9 L336.4 691.0 L337.9 691.1 L339.3 691.2 L340.8 691.3 L342.3 691.4 L343.7 691.5 L345.2 691.6 L346.7 691.7 L348.1 691.8 L349.6 691.8 L351.1 691.9 L352.5 692.0 L354.0 692.1 L355.5 692.1 L357.0 692.2 L358.4 692.3 L359.9 692.3 L361.4 692.4 L362.8 692.4 L364.3 692.5 L365.8 692.6 L367.2 692.6 L368.7 692.7 L370.2 692.7 L371.6 692.8 L373.1 692.8 L374.6 692.9 L376.1 692.9 L377.5 693.0 L379.0 693.0 L380.5 693.1 L381.9 693.1 L383.4 693.1 L384.9 693.2 L386.3 693.2 L387.8 693.2 L389.3 693.3 L390.7 693.3 L392.2 693.3 L393.7 693.4 L401.0 693.5 L408.4 693.6 L415.7 693.6 L423.1 693.7 L430.4 693.7 L437.8 693.7 L445.1 693.7 L452.4 693.7 L459.8 693.7 L467.1 693.7 L474.5 693.7 L481.8 693.7 L489.2 693.7 L496.5 693.7 L503.9 693.7 L511.2 693.7" stroke="#1212c8" stroke-width="1.7" stroke-dasharray="8.2 3.3 2.2 3.3"/>
<path d="M70.5 476.2 L70.8 476.2 L71.1 476.2 L71.4 476.2 L71.7 476.2 L72.0 476.2 L72.3 476.2 L72.6 476.2 L72.9 476.2 L73.1 476.2 L73.4 476.2 L73.7 476.2 L74.0 476.3 L74.3 476.3 L74.6 476.3 L74.9 476.3 L75.2 476.3 L75.5 476.4 L75.8 476.4 L76.1 476.4 L76.4 476.4 L76.7 476.5 L77.0 476.5 L77.3 476.5 L77.6 476.5 L77.8 476.6 L78.1 476.6 L78.4 476.6 L78.7 476.7 L79.0 476.7 L79.3 476.7 L79.6 476.8 L79.9 476.8 L80.2 476.9 L80.5 477.0 L80.8 477.1 L81.1 477.2 L81.4 477.3 L81.7 477.4 L82.0 477.5 L82.3 477.6 L82.5 477.8 L82.8 477.9 L83.1 478.0 L83.4 478.2 L83.7 478.4 L84.0 478.5 L84.3 478.7 L84.6 478.9 L84.9 479.0 L85.2 479.2 L86.7 480.2 L88.1 481.2 L89.6 482.5 L91.1 484.0 L92.5 485.5 L94.0 487.2 L95.5 489.1 L96.9 491.0 L98.4 493.1 L99.9 495.3 L101.3 497.5 L102.8 499.8 L104.3 502.1 L105.8 504.4 L107.2 506.7 L108.7 508.9 L110.2 511.1 L111.6 513.3 L113.1 515.5 L114.6 517.6 L116.0 519.6 L117.5 521.7 L119.0 523.6 L120.4 525.6 L121.9 527.5 L123.4 529.4 L124.9 531.3 L126.3 533.2 L127.8 535.0 L129.3 536.8 L130.7 538.7 L132.2 540.4 L133.7 542.2 L135.1 544.0 L136.6 545.8 L138.1 547.6 L139.5 549.4 L141.0 551.2 L142.5 553.0 L143.9 554.8 L145.4 556.6 L146.9 558.5 L148.4 560.3 L149.8 562.2 L151.3 564.1 L152.8 566.0 L154.2 567.9 L155.7 569.9 L157.2 571.9 L158.6 573.9 L160.1 575.9 L161.6 578.0 L163.0 580.0 L164.5 582.1 L166.0 584.2 L167.5 586.3 L168.9 588.5 L170.4 590.6 L171.9 592.7 L173.3 594.8 L174.8 596.9 L176.3 599.0 L177.7 601.1 L179.2 603.2 L180.7 605.3 L182.1 607.4 L183.6 609.4 L185.1 611.4 L186.6 613.4 L188.0 615.4 L189.5 617.3 L191.0 619.2 L192.4 621.1 L193.9 623.0 L195.4 624.8 L196.8 626.6 L198.3 628.4 L199.8 630.1 L201.2 631.8 L202.7 633.5 L204.2 635.1 L205.6 636.7 L207.1 638.3 L208.6 639.9 L210.1 641.4 L211.5 642.9 L213.0 644.3 L214.5 645.8 L215.9 647.2 L217.4 648.6 L218.9 649.9 L220.3 651.3 L221.8 652.6 L223.3 653.9 L224.7 655.2 L226.2 656.5 L227.7 657.7 L229.2 658.9 L230.6 660.1 L232.1 661.3 L233.6 662.4 L235.0 663.5 L236.5 664.6 L238.0 665.6 L239.4 666.6 L240.9 667.6 L242.4 668.6 L243.8 669.5 L245.3 670.4 L246.8 671.2 L248.2 672.1 L249.7 672.9 L251.2 673.6 L252.7 674.4 L254.1 675.1 L255.6 675.8 L257.1 676.4 L258.5 677.1 L260.0 677.7 L261.5 678.3 L262.9 678.8 L264.4 679.4 L265.9 679.9 L267.3 680.4 L268.8 680.9 L270.3 681.4 L271.8 681.9 L273.2 682.3 L274.7 682.7 L276.2 683.2 L277.6 683.6 L279.1 684.0 L280.6 684.3 L282.0 684.7 L283.5 685.1 L285.0 685.4 L286.4 685.7 L287.9 686.1 L289.4 686.4 L290.9 686.7 L292.3 687.0 L293.8 687.3 L295.3 687.5 L296.7 687.8 L298.2 688.1 L299.7 688.3 L301.1 688.5 L302.6 688.8 L304.1 689.0 L305.5 689.2 L307.0 689.4 L308.5 689.6 L309.9 689.8 L311.4 690.0 L312.9 690.2 L314.4 690.3 L315.8 690.5 L317.3 690.6 L318.8 690.8 L320.2 690.9 L321.7 691.1 L323.2 691.2 L324.6 691.3 L326.1 691.4 L327.6 691.6 L329.0 691.7 L330.5 691.8 L332.0 691.9 L333.5 692.0 L334.9 692.1 L336.4 692.1 L337.9 692.2 L339.3 692.3 L340.8 692.4 L342.3 692.4 L343.7 692.5 L345.2 692.6 L346.7 692.6 L348.1 692.7 L349.6 692.7 L351.1 692.8 L352.5 692.8 L354.0 692.9 L355.5 692.9 L357.0 693.0 L358.4 693.0 L359.9 693.0 L361.4 693.1 L362.8 693.1 L364.3 693.1 L365.8 693.2 L367.2 693.2 L368.7 693.2 L370.2 693.3 L371.6 693.3 L373.1 693.3 L374.6 693.4 L376.1 693.4 L377.5 693.4 L379.0 693.5 L380.5 693.5 L381.9 693.5 L383.4 693.5 L384.9 693.6 L386.3 693.6 L387.8 693.6 L389.3 693.6 L390.7 693.6 L392.2 693.6 L393.7 693.7 L401.0 693.7 L408.4 693.7 L415.7 693.7 L423.1 693.7 L430.4 693.7 L437.8 693.7 L445.1 693.7 L452.4 693.7 L459.8 693.7 L467.1 693.7 L474.5 693.7 L481.8 693.7 L489.2 693.7 L496.5 693.7 L503.9 693.7 L511.2 693.7" stroke="#e81ee8" stroke-width="1.7" stroke-dasharray="4.2 3.2"/>
<path d="M70.5 517.1 L70.8 517.1 L71.1 517.1 L71.4 517.1 L71.7 517.0 L72.0 517.0 L72.3 516.9 L72.6 516.9 L72.9 516.8 L73.1 516.8 L73.4 516.7 L73.7 516.6 L74.0 516.6 L74.3 516.5 L74.6 516.4 L74.9 516.2 L75.2 516.0 L75.5 515.8 L75.8 515.6 L76.1 515.3 L76.4 515.0 L76.7 514.7 L77.0 514.3 L77.3 513.9 L77.6 513.5 L77.8 513.1 L78.1 512.6 L78.4 512.2 L78.7 511.7 L79.0 511.2 L79.3 510.7 L79.6 510.1 L79.9 509.6 L80.2 509.0 L80.5 508.5 L80.8 507.9 L81.1 507.3 L81.4 506.8 L81.7 506.2 L82.0 505.6 L82.3 505.1 L82.5 504.5 L82.8 503.9 L83.1 503.4 L83.4 502.9 L83.7 502.3 L84.0 501.8 L84.3 501.3 L84.6 500.8 L84.9 500.4 L85.2 499.9 L86.7 498.0 L88.1 496.8 L89.6 496.3 L91.1 496.5 L92.5 497.2 L94.0 498.2 L95.5 499.5 L96.9 501.0 L98.4 502.8 L99.9 504.8 L101.3 507.0 L102.8 509.3 L104.3 511.7 L105.8 514.2 L107.2 516.6 L108.7 519.0 L110.2 521.3 L111.6 523.5 L113.1 525.6 L114.6 527.6 L116.0 529.4 L117.5 531.3 L119.0 533.0 L120.4 534.8 L121.9 536.5 L123.4 538.2 L124.9 540.0 L126.3 541.7 L127.8 543.4 L129.3 545.2 L130.7 547.0 L132.2 548.7 L133.7 550.6 L135.1 552.4 L136.6 554.2 L138.1 556.1 L139.5 557.9 L141.0 559.7 L142.5 561.4 L143.9 563.1 L145.4 564.8 L146.9 566.5 L148.4 568.1 L149.8 569.7 L151.3 571.3 L152.8 572.8 L154.2 574.4 L155.7 576.0 L157.2 577.6 L158.6 579.3 L160.1 580.9 L161.6 582.6 L163.0 584.4 L164.5 586.1 L166.0 587.9 L167.5 589.7 L168.9 591.5 L170.4 593.4 L171.9 595.2 L173.3 597.0 L174.8 598.7 L176.3 600.5 L177.7 602.3 L179.2 604.1 L180.7 605.8 L182.1 607.6 L183.6 609.3 L185.1 611.1 L186.6 612.8 L188.0 614.6 L189.5 616.3 L191.0 618.0 L192.4 619.7 L193.9 621.4 L195.4 623.1 L196.8 624.7 L198.3 626.3 L199.8 627.9 L201.2 629.5 L202.7 631.1 L204.2 632.6 L205.6 634.1 L207.1 635.6 L208.6 637.0 L210.1 638.4 L211.5 639.8 L213.0 641.1 L214.5 642.4 L215.9 643.7 L217.4 645.0 L218.9 646.2 L220.3 647.4 L221.8 648.6 L223.3 649.7 L224.7 650.8 L226.2 651.9 L227.7 653.0 L229.2 654.1 L230.6 655.1 L232.1 656.1 L233.6 657.1 L235.0 658.1 L236.5 659.0 L238.0 659.9 L239.4 660.8 L240.9 661.7 L242.4 662.6 L243.8 663.5 L245.3 664.3 L246.8 665.1 L248.2 665.9 L249.7 666.7 L251.2 667.4 L252.7 668.2 L254.1 668.9 L255.6 669.6 L257.1 670.3 L258.5 670.9 L260.0 671.6 L261.5 672.2 L262.9 672.9 L264.4 673.5 L265.9 674.1 L267.3 674.6 L268.8 675.2 L270.3 675.8 L271.8 676.3 L273.2 676.8 L274.7 677.3 L276.2 677.8 L277.6 678.3 L279.1 678.8 L280.6 679.2 L282.0 679.7 L283.5 680.1 L285.0 680.6 L286.4 681.0 L287.9 681.4 L289.4 681.8 L290.9 682.1 L292.3 682.5 L293.8 682.9 L295.3 683.2 L296.7 683.6 L298.2 683.9 L299.7 684.2 L301.1 684.5 L302.6 684.8 L304.1 685.1 L305.5 685.4 L307.0 685.7 L308.5 686.0 L309.9 686.2 L311.4 686.5 L312.9 686.7 L314.4 687.0 L315.8 687.2 L317.3 687.4 L318.8 687.7 L320.2 687.9 L321.7 688.1 L323.2 688.3 L324.6 688.5 L326.1 688.7 L327.6 688.9 L329.0 689.0 L330.5 689.2 L332.0 689.4 L333.5 689.5 L334.9 689.7 L336.4 689.8 L337.9 690.0 L339.3 690.1 L340.8 690.2 L342.3 690.4 L343.7 690.5 L345.2 690.6 L346.7 690.7 L348.1 690.8 L349.6 690.9 L351.1 691.1 L352.5 691.2 L354.0 691.3 L355.5 691.4 L357.0 691.4 L358.4 691.5 L359.9 691.6 L361.4 691.7 L362.8 691.8 L364.3 691.9 L365.8 692.0 L367.2 692.0 L368.7 692.1 L370.2 692.2 L371.6 692.2 L373.1 692.3 L374.6 692.4 L376.1 692.4 L377.5 692.5 L379.0 692.6 L380.5 692.6 L381.9 692.7 L383.4 692.7 L384.9 692.8 L386.3 692.8 L387.8 692.9 L389.3 692.9 L390.7 693.0 L392.2 693.0 L393.7 693.1 L401.0 693.2 L408.4 693.4 L415.7 693.5 L423.1 693.6 L430.4 693.7 L437.8 693.7 L445.1 693.7 L452.4 693.7 L459.8 693.7 L467.1 693.7 L474.5 693.7 L481.8 693.7 L489.2 693.7 L496.5 693.7 L503.9 693.7 L511.2 693.7" stroke="#1c741c" stroke-width="1.5" stroke-dasharray="5.8 2.5 1.8 2.2"/>
<path d="M386.3 692.6 L393.7 692.8 L401.0 693.0 L408.4 693.1 L415.7 693.2 L423.1 693.3 L430.4 693.4 L437.8 693.4 L445.1 693.5 L452.4 693.5 L459.8 693.6 L467.1 693.6 L474.5 693.6 L481.8 693.7 L489.2 693.7 L496.5 693.7 L503.9 693.7 L511.2 693.7" stroke="#14141e" stroke-width="1.7" stroke-opacity="0.72"/>
<path d="M71.4 456.0V447.4" stroke="#cc0512" stroke-width="2"/>
</g>
<g stroke="#1a1a1a" stroke-width="1.5" fill="none">
<rect x="70.5" y="396.9" width="440.7" height="326.5"/>
<path d="M70.50 723.4v7.3M70.50 396.9v7.3M107.22 723.4v4.2M107.22 396.9v4.2M143.95 723.4v7.3M143.95 396.9v7.3M180.68 723.4v4.2M180.68 396.9v4.2M217.40 723.4v7.3M217.40 396.9v7.3M254.12 723.4v4.2M254.12 396.9v4.2M290.85 723.4v7.3M290.85 396.9v7.3M327.57 723.4v4.2M327.57 396.9v4.2M364.30 723.4v7.3M364.30 396.9v7.3M401.02 723.4v4.2M401.02 396.9v4.2M437.75 723.4v7.3M437.75 396.9v7.3M474.47 723.4v4.2M474.47 396.9v4.2M511.20 723.4v7.3M511.20 396.9v7.3M70.5 723.40h-3.7M511.2 723.40h-3.7M70.5 693.72h-6.5M511.2 693.72h-6.5M70.5 664.04h-3.7M511.2 664.04h-3.7M70.5 634.35h-6.5M511.2 634.35h-6.5M70.5 604.67h-3.7M511.2 604.67h-3.7M70.5 574.99h-6.5M511.2 574.99h-6.5M70.5 545.31h-3.7M511.2 545.31h-3.7M70.5 515.63h-6.5M511.2 515.63h-6.5M70.5 485.95h-3.7M511.2 485.95h-3.7M70.5 456.26h-6.5M511.2 456.26h-6.5M70.5 426.58h-3.7M511.2 426.58h-3.7M70.5 396.90h-6.5M511.2 396.90h-6.5" stroke-width="1.3"/>
</g>
<g font-size="14" text-anchor="middle">
<text x="70.5" y="746.2">0</text>
<text x="143.9" y="746.2">5</text>
<text x="217.4" y="746.2">10</text>
<text x="290.9" y="746.2">15</text>
<text x="364.3" y="746.2">20</text>
<text x="437.8" y="746.2">25</text>
<text x="511.2" y="746.2">30</text>
</g>
<g font-size="13.9" text-anchor="end">
<text x="59" y="698.0">0.00</text>
<text x="59" y="638.7">0.02</text>
<text x="59" y="579.3">0.04</text>
<text x="59" y="519.9">0.06</text>
<text x="59" y="460.6">0.08</text>
<text x="59" y="401.2">0.10</text>
</g>
<text x="290.9" y="767.4" font-size="17.4" text-anchor="middle">Electron energy (eV)</text>
<text transform="translate(17.7 553.1) rotate(-90)" font-size="17.3" text-anchor="middle">EEDF (eV<tspan font-size="10.7" dy="-9">-3/2</tspan><tspan dy="9">)</tspan></text>
<text x="92.6" y="423.9" font-size="16.9">(b) 50%N<tspan font-size="10.4" dy="5.4">2</tspan></text>
<path d="M370.4 418.9H406.5" stroke="#000000" stroke-width="1.7" fill="none"/>
<text x="410.6" y="424.2" font-size="15.6">SF<tspan font-size="10.1" dy="5.8">6</tspan><tspan dy="-5.8"> - N</tspan><tspan font-size="10.1" dy="5.8">2</tspan></text>
<path d="M370.4 442.6H406.5" stroke="#e3141e" stroke-width="1.7" fill="none" stroke-dasharray="8.6 7.5"/>
<text x="410.6" y="447.9" font-size="15.6">CF<tspan font-size="10.1" dy="5.8">3</tspan><tspan dy="-5.8">I</tspan> - N<tspan font-size="10.1" dy="5.8">2</tspan></text>
<path d="M370.4 466.3H406.5" stroke="#1212c8" stroke-width="1.7" fill="none" stroke-dasharray="10 4 2.5 4"/>
<text x="410.6" y="471.6" font-size="15.6">C<tspan font-size="10.1" dy="5.8">2</tspan><tspan dy="-5.8">F</tspan><tspan font-size="10.1" dy="5.8">6</tspan><tspan dy="-5.8"> - N</tspan><tspan font-size="10.1" dy="5.8">2</tspan></text>
<path d="M370.4 490.0H406.5" stroke="#e81ee8" stroke-width="1.7" fill="none" stroke-dasharray="4.4 3"/>
<text x="410.6" y="495.3" font-size="15.6">C<tspan font-size="10.1" dy="5.8">3</tspan><tspan dy="-5.8">F</tspan><tspan font-size="10.1" dy="5.8">8</tspan><tspan dy="-5.8"> - N</tspan><tspan font-size="10.1" dy="5.8">2</tspan></text>
<path d="M370.4 513.7H406.5" stroke="#1c741c" stroke-width="1.7" fill="none" stroke-dasharray="6.2 2.8 1.8 2.2"/>
<text x="410.6" y="519.0" font-size="15.6">c-C<tspan font-size="10.1" dy="5.8">4</tspan><tspan dy="-5.8">F</tspan><tspan font-size="10.1" dy="5.8">8</tspan><tspan dy="-5.8"> - N</tspan><tspan font-size="10.1" dy="5.8">2</tspan></text>
</g>
<g id="p2">
<clipPath id="c2"><rect x="69.3" y="786.5" width="442.7" height="326.29999999999995"/></clipPath>
<g clip-path="url(#c2)" fill="none" stroke-linejoin="round">
<path d="M70.5 961.8 L70.8 959.5 L71.1 957.7 L71.4 956.6 L71.7 955.8 L72.0 955.1 L72.3 954.5 L72.6 954.0 L72.9 953.6 L73.1 953.4 L73.4 953.2 L73.7 953.1 L74.0 953.0 L74.3 952.9 L74.6 952.8 L74.9 952.8 L75.2 952.7 L75.5 952.6 L75.8 952.5 L76.1 952.5 L76.4 952.4 L76.7 952.4 L77.0 952.3 L77.3 952.3 L77.6 952.2 L77.8 952.2 L78.1 952.2 L78.4 952.1 L78.7 952.1 L79.0 952.1 L79.3 952.1 L79.6 952.0 L79.9 952.0 L80.2 952.0 L80.5 952.0 L80.8 952.0 L81.1 952.0 L81.4 952.0 L81.7 952.0 L82.0 952.0 L82.3 952.0 L82.5 952.1 L82.8 952.1 L83.1 952.1 L83.4 952.1 L83.7 952.1 L84.0 952.1 L84.3 952.1 L84.6 952.1 L84.9 952.1 L85.2 952.1 L86.7 952.2 L88.1 952.3 L89.6 952.4 L91.1 952.6 L92.5 952.7 L94.0 952.9 L95.5 953.1 L96.9 953.4 L98.4 953.7 L99.9 954.1 L101.3 954.5 L102.8 954.9 L104.3 955.4 L105.8 955.9 L107.2 956.4 L108.7 956.9 L110.2 957.5 L111.6 958.1 L113.1 958.7 L114.6 959.3 L116.0 959.9 L117.5 960.6 L119.0 961.2 L120.4 961.9 L121.9 962.6 L123.4 963.3 L124.9 964.0 L126.3 964.7 L127.8 965.4 L129.3 966.2 L130.7 966.9 L132.2 967.7 L133.7 968.4 L135.1 969.2 L136.6 970.0 L138.1 970.8 L139.5 971.6 L141.0 972.4 L142.5 973.3 L143.9 974.2 L145.4 975.1 L146.9 976.0 L148.4 976.9 L149.8 977.9 L151.3 978.9 L152.8 979.9 L154.2 980.9 L155.7 981.9 L157.2 983.0 L158.6 984.1 L160.1 985.2 L161.6 986.3 L163.0 987.4 L164.5 988.5 L166.0 989.6 L167.5 990.6 L168.9 991.7 L170.4 992.8 L171.9 993.9 L173.3 994.9 L174.8 996.0 L176.3 997.0 L177.7 998.1 L179.2 999.1 L180.7 1000.1 L182.1 1001.1 L183.6 1002.2 L185.1 1003.2 L186.6 1004.2 L188.0 1005.3 L189.5 1006.3 L191.0 1007.3 L192.4 1008.4 L193.9 1009.4 L195.4 1010.4 L196.8 1011.5 L198.3 1012.5 L199.8 1013.5 L201.2 1014.6 L202.7 1015.6 L204.2 1016.6 L205.6 1017.6 L207.1 1018.6 L208.6 1019.7 L210.1 1020.7 L211.5 1021.6 L213.0 1022.6 L214.5 1023.6 L215.9 1024.6 L217.4 1025.5 L218.9 1026.5 L220.3 1027.4 L221.8 1028.3 L223.3 1029.3 L224.7 1030.2 L226.2 1031.1 L227.7 1032.0 L229.2 1032.9 L230.6 1033.8 L232.1 1034.7 L233.6 1035.6 L235.0 1036.4 L236.5 1037.3 L238.0 1038.2 L239.4 1039.0 L240.9 1039.9 L242.4 1040.7 L243.8 1041.6 L245.3 1042.4 L246.8 1043.3 L248.2 1044.1 L249.7 1044.9 L251.2 1045.8 L252.7 1046.6 L254.1 1047.4 L255.6 1048.2 L257.1 1049.0 L258.5 1049.7 L260.0 1050.5 L261.5 1051.2 L262.9 1052.0 L264.4 1052.7 L265.9 1053.4 L267.3 1054.1 L268.8 1054.8 L270.3 1055.5 L271.8 1056.1 L273.2 1056.8 L274.7 1057.4 L276.2 1058.0 L277.6 1058.6 L279.1 1059.2 L280.6 1059.8 L282.0 1060.4 L283.5 1060.9 L285.0 1061.5 L286.4 1062.0 L287.9 1062.5 L289.4 1063.0 L290.9 1063.5 L292.3 1063.9 L293.8 1064.4 L295.3 1064.9 L296.7 1065.3 L298.2 1065.7 L299.7 1066.1 L301.1 1066.6 L302.6 1067.0 L304.1 1067.3 L305.5 1067.7 L307.0 1068.1 L308.5 1068.5 L309.9 1068.8 L311.4 1069.2 L312.9 1069.5 L314.4 1069.9 L315.8 1070.2 L317.3 1070.5 L318.8 1070.8 L320.2 1071.2 L321.7 1071.5 L323.2 1071.8 L324.6 1072.1 L326.1 1072.4 L327.6 1072.7 L329.0 1073.0 L330.5 1073.2 L332.0 1073.5 L333.5 1073.8 L334.9 1074.1 L336.4 1074.3 L337.9 1074.6 L339.3 1074.8 L340.8 1075.1 L342.3 1075.3 L343.7 1075.5 L345.2 1075.8 L346.7 1076.0 L348.1 1076.2 L349.6 1076.4 L351.1 1076.6 L352.5 1076.8 L354.0 1077.0 L355.5 1077.2 L357.0 1077.4 L358.4 1077.6 L359.9 1077.8 L361.4 1077.9 L362.8 1078.1 L364.3 1078.2 L365.8 1078.4 L367.2 1078.5 L368.7 1078.7 L370.2 1078.8 L371.6 1079.0 L373.1 1079.1 L374.6 1079.2 L376.1 1079.4 L377.5 1079.5 L379.0 1079.6 L380.5 1079.7 L381.9 1079.9 L383.4 1080.0 L384.9 1080.1 L386.3 1080.2 L387.8 1080.3 L389.3 1080.4 L390.7 1080.5 L392.2 1080.6 L393.7 1080.7 L401.0 1081.2 L408.4 1081.6 L415.7 1081.9 L423.1 1082.2 L430.4 1082.4 L437.8 1082.6 L445.1 1082.7 L452.4 1082.8 L459.8 1082.9 L467.1 1082.9 L474.5 1083.0 L481.8 1083.0 L489.2 1083.1 L496.5 1083.1 L503.9 1083.1 L511.2 1083.1" stroke="#000000" stroke-width="2.05"/>
<path d="M73.29 867.48 L73.4 867.5 L73.7 867.5 L74.0 867.5 L74.3 867.5 L74.6 867.6 L74.9 867.6 L75.2 867.6 L75.5 867.6 L75.8 867.7 L76.1 867.7 L76.4 867.7 L76.7 867.7 L77.0 867.8 L77.3 867.8 L77.6 867.8 L77.8 867.9 L78.1 867.9 L78.4 867.9 L78.7 867.9 L79.0 868.0 L79.3 868.0 L79.6 868.1 L79.9 868.1 L80.2 868.1 L80.5 868.2 L80.8 868.2 L81.1 868.3 L81.4 868.4 L81.7 868.4 L82.0 868.5 L82.3 868.6 L82.5 868.7 L82.8 868.8 L83.1 868.9 L83.4 869.0 L83.7 869.1 L84.0 869.2 L84.3 869.4 L84.6 869.5 L84.9 869.6 L85.2 869.7 L86.7 870.3 L88.1 870.9 L89.6 871.4 L91.1 872.1 L92.5 872.8 L94.0 873.5 L95.5 874.3 L96.9 875.2 L98.4 876.2 L99.9 877.2 L101.3 878.3 L102.8 879.4 L104.3 880.7 L105.8 882.0 L107.2 883.4 L108.7 884.8 L110.2 886.3 L111.6 887.8 L113.1 889.3 L114.6 890.8 L116.0 892.4 L117.5 894.0 L119.0 895.7 L120.4 897.4 L121.9 899.2 L123.4 900.9 L124.9 902.7 L126.3 904.6 L127.8 906.5 L129.3 908.4 L130.7 910.4 L132.2 912.5 L133.7 914.5 L135.1 916.6 L136.6 918.8 L138.1 921.0 L139.5 923.2 L141.0 925.5 L142.5 927.8 L143.9 930.1 L145.4 932.5 L146.9 934.9 L148.4 937.3 L149.8 939.8 L151.3 942.3 L152.8 944.8 L154.2 947.4 L155.7 949.9 L157.2 952.5 L158.6 955.1 L160.1 957.7 L161.6 960.3 L163.0 963.0 L164.5 965.6 L166.0 968.2 L167.5 970.8 L168.9 973.5 L170.4 976.1 L171.9 978.7 L173.3 981.3 L174.8 983.8 L176.3 986.4 L177.7 988.9 L179.2 991.4 L180.7 993.9 L182.1 996.3 L183.6 998.7 L185.1 1001.1 L186.6 1003.4 L188.0 1005.7 L189.5 1008.0 L191.0 1010.2 L192.4 1012.3 L193.9 1014.5 L195.4 1016.5 L196.8 1018.5 L198.3 1020.5 L199.8 1022.5 L201.2 1024.4 L202.7 1026.2 L204.2 1028.0 L205.6 1029.8 L207.1 1031.5 L208.6 1033.1 L210.1 1034.7 L211.5 1036.3 L213.0 1037.8 L214.5 1039.3 L215.9 1040.7 L217.4 1042.1 L218.9 1043.4 L220.3 1044.7 L221.8 1046.0 L223.3 1047.2 L224.7 1048.4 L226.2 1049.6 L227.7 1050.8 L229.2 1051.9 L230.6 1053.0 L232.1 1054.0 L233.6 1055.1 L235.0 1056.1 L236.5 1057.1 L238.0 1058.1 L239.4 1059.0 L240.9 1060.0 L242.4 1060.9 L243.8 1061.8 L245.3 1062.6 L246.8 1063.5 L248.2 1064.3 L249.7 1065.1 L251.2 1065.9 L252.7 1066.6 L254.1 1067.3 L255.6 1068.0 L257.1 1068.7 L258.5 1069.4 L260.0 1070.0 L261.5 1070.6 L262.9 1071.1 L264.4 1071.7 L265.9 1072.2 L267.3 1072.7 L268.8 1073.2 L270.3 1073.6 L271.8 1074.1 L273.2 1074.5 L274.7 1074.8 L276.2 1075.2 L277.6 1075.6 L279.1 1075.9 L280.6 1076.2 L282.0 1076.5 L283.5 1076.8 L285.0 1077.1 L286.4 1077.4 L287.9 1077.6 L289.4 1077.9 L290.9 1078.1 L292.3 1078.3 L293.8 1078.5 L295.3 1078.7 L296.7 1078.9 L298.2 1079.1 L299.7 1079.3 L301.1 1079.5 L302.6 1079.7 L304.1 1079.8 L305.5 1080.0 L307.0 1080.1 L308.5 1080.3 L309.9 1080.4 L311.4 1080.5 L312.9 1080.6 L314.4 1080.8 L315.8 1080.9 L317.3 1081.0 L318.8 1081.1 L320.2 1081.2 L321.7 1081.3 L323.2 1081.4 L324.6 1081.4 L326.1 1081.5 L327.6 1081.6 L329.0 1081.7 L330.5 1081.7 L332.0 1081.8 L333.5 1081.9 L334.9 1081.9 L336.4 1082.0 L337.9 1082.1 L339.3 1082.1 L340.8 1082.2 L342.3 1082.2 L343.7 1082.3 L345.2 1082.3 L346.7 1082.4 L348.1 1082.4 L349.6 1082.5 L351.1 1082.5 L352.5 1082.5 L354.0 1082.6 L355.5 1082.6 L357.0 1082.7 L358.4 1082.7 L359.9 1082.7 L361.4 1082.7 L362.8 1082.8 L364.3 1082.8 L365.8 1082.8 L367.2 1082.9 L368.7 1082.9 L370.2 1082.9 L371.6 1082.9 L373.1 1082.9 L374.6 1083.0 L376.1 1083.0 L377.5 1083.0 L379.0 1083.0 L380.5 1083.0 L381.9 1083.0 L383.4 1083.0 L384.9 1083.1 L386.3 1083.1 L387.8 1083.1 L389.3 1083.1 L390.7 1083.1 L392.2 1083.1 L393.7 1083.1 L401.0 1083.1 L408.4 1083.1 L415.7 1083.1 L423.1 1083.1 L430.4 1083.1 L437.8 1083.1 L445.1 1083.1 L452.4 1083.1 L459.8 1083.1 L467.1 1083.1 L474.5 1083.1 L481.8 1083.1 L489.2 1083.1 L496.5 1083.1 L503.9 1083.1 L511.2 1083.1" stroke="#e3141e" stroke-width="1.7" stroke-dasharray="8.8 6.2"/>
<path d="M70.5 891.8 L70.8 892.0 L71.1 892.1 L71.4 892.3 L71.7 892.5 L72.0 892.7 L72.3 892.8 L72.6 893.0 L72.9 893.2 L73.1 893.4 L73.4 893.5 L73.7 893.7 L74.0 893.9 L74.3 894.1 L74.6 894.2 L74.9 894.4 L75.2 894.6 L75.5 894.8 L75.8 894.9 L76.1 895.1 L76.4 895.3 L76.7 895.5 L77.0 895.7 L77.3 895.8 L77.6 896.0 L77.8 896.2 L78.1 896.4 L78.4 896.6 L78.7 896.7 L79.0 896.9 L79.3 897.1 L79.6 897.3 L79.9 897.5 L80.2 897.7 L80.5 897.8 L80.8 898.0 L81.1 898.2 L81.4 898.4 L81.7 898.6 L82.0 898.8 L82.3 899.0 L82.5 899.2 L82.8 899.3 L83.1 899.5 L83.4 899.7 L83.7 899.9 L84.0 900.1 L84.3 900.3 L84.6 900.5 L84.9 900.7 L85.2 900.9 L86.7 901.8 L88.1 902.8 L89.6 903.9 L91.1 904.9 L92.5 906.0 L94.0 907.1 L95.5 908.2 L96.9 909.4 L98.4 910.6 L99.9 911.8 L101.3 913.2 L102.8 914.5 L104.3 915.9 L105.8 917.4 L107.2 919.0 L108.7 920.6 L110.2 922.2 L111.6 923.9 L113.1 925.7 L114.6 927.4 L116.0 929.2 L117.5 931.1 L119.0 933.0 L120.4 934.9 L121.9 936.8 L123.4 938.7 L124.9 940.7 L126.3 942.7 L127.8 944.7 L129.3 946.8 L130.7 948.8 L132.2 950.9 L133.7 953.0 L135.1 955.0 L136.6 957.1 L138.1 959.1 L139.5 961.1 L141.0 963.1 L142.5 965.1 L143.9 967.1 L145.4 969.1 L146.9 971.0 L148.4 972.9 L149.8 974.8 L151.3 976.7 L152.8 978.5 L154.2 980.4 L155.7 982.1 L157.2 983.9 L158.6 985.6 L160.1 987.2 L161.6 988.8 L163.0 990.4 L164.5 991.9 L166.0 993.4 L167.5 994.8 L168.9 996.2 L170.4 997.5 L171.9 998.9 L173.3 1000.2 L174.8 1001.4 L176.3 1002.7 L177.7 1004.0 L179.2 1005.2 L180.7 1006.5 L182.1 1007.7 L183.6 1009.0 L185.1 1010.2 L186.6 1011.4 L188.0 1012.7 L189.5 1014.0 L191.0 1015.2 L192.4 1016.4 L193.9 1017.7 L195.4 1018.9 L196.8 1020.1 L198.3 1021.3 L199.8 1022.5 L201.2 1023.6 L202.7 1024.8 L204.2 1025.9 L205.6 1027.0 L207.1 1028.1 L208.6 1029.2 L210.1 1030.2 L211.5 1031.3 L213.0 1032.3 L214.5 1033.2 L215.9 1034.2 L217.4 1035.1 L218.9 1036.1 L220.3 1037.0 L221.8 1037.9 L223.3 1038.7 L224.7 1039.6 L226.2 1040.4 L227.7 1041.3 L229.2 1042.1 L230.6 1042.9 L232.1 1043.7 L233.6 1044.5 L235.0 1045.3 L236.5 1046.1 L238.0 1046.9 L239.4 1047.6 L240.9 1048.4 L242.4 1049.2 L243.8 1050.0 L245.3 1050.7 L246.8 1051.5 L248.2 1052.2 L249.7 1053.0 L251.2 1053.7 L252.7 1054.4 L254.1 1055.2 L255.6 1055.9 L257.1 1056.6 L258.5 1057.2 L260.0 1057.9 L261.5 1058.6 L262.9 1059.2 L264.4 1059.8 L265.9 1060.4 L267.3 1061.0 L268.8 1061.6 L270.3 1062.1 L271.8 1062.7 L273.2 1063.2 L274.7 1063.7 L276.2 1064.2 L277.6 1064.7 L279.1 1065.2 L280.6 1065.6 L282.0 1066.1 L283.5 1066.5 L285.0 1067.0 L286.4 1067.4 L287.9 1067.8 L289.4 1068.2 L290.9 1068.6 L292.3 1069.0 L293.8 1069.4 L295.3 1069.8 L296.7 1070.1 L298.2 1070.5 L299.7 1070.9 L301.1 1071.2 L302.6 1071.5 L304.1 1071.9 L305.5 1072.2 L307.0 1072.5 L308.5 1072.8 L309.9 1073.1 L311.4 1073.4 L312.9 1073.6 L314.4 1073.9 L315.8 1074.2 L317.3 1074.4 L318.8 1074.7 L320.2 1074.9 L321.7 1075.2 L323.2 1075.4 L324.6 1075.6 L326.1 1075.9 L327.6 1076.1 L329.0 1076.3 L330.5 1076.5 L332.0 1076.7 L333.5 1076.9 L334.9 1077.1 L336.4 1077.3 L337.9 1077.5 L339.3 1077.7 L340.8 1077.9 L342.3 1078.0 L343.7 1078.2 L345.2 1078.4 L346.7 1078.6 L348.1 1078.7 L349.6 1078.9 L351.1 1079.0 L352.5 1079.2 L354.0 1079.3 L355.5 1079.5 L357.0 1079.6 L358.4 1079.8 L359.9 1079.9 L361.4 1080.0 L362.8 1080.2 L364.3 1080.3 L365.8 1080.4 L367.2 1080.5 L368.7 1080.6 L370.2 1080.7 L371.6 1080.8 L373.1 1080.9 L374.6 1081.0 L376.1 1081.1 L377.5 1081.2 L379.0 1081.2 L380.5 1081.3 L381.9 1081.4 L383.4 1081.5 L384.9 1081.5 L386.3 1081.6 L387.8 1081.7 L389.3 1081.7 L390.7 1081.8 L392.2 1081.9 L393.7 1081.9 L401.0 1082.2 L408.4 1082.4 L415.7 1082.6 L423.1 1082.8 L430.4 1082.9 L437.8 1083.0 L445.1 1083.1 L452.4 1083.1 L459.8 1083.1 L467.1 1083.1 L474.5 1083.1 L481.8 1083.1 L489.2 1083.1 L496.5 1083.1 L503.9 1083.1 L511.2 1083.1" stroke="#1212c8" stroke-width="1.7" stroke-dasharray="8.2 3.3 2.2 3.3"/>
<path d="M70.5 910.8 L70.8 910.8 L71.1 910.8 L71.4 910.8 L71.7 910.9 L72.0 910.9 L72.3 910.9 L72.6 910.9 L72.9 911.0 L73.1 911.0 L73.4 911.0 L73.7 911.1 L74.0 911.1 L74.3 911.1 L74.6 911.2 L74.9 911.2 L75.2 911.3 L75.5 911.3 L75.8 911.3 L76.1 911.4 L76.4 911.4 L76.7 911.5 L77.0 911.5 L77.3 911.6 L77.6 911.6 L77.8 911.7 L78.1 911.8 L78.4 911.8 L78.7 911.9 L79.0 911.9 L79.3 912.0 L79.6 912.0 L79.9 912.1 L80.2 912.2 L80.5 912.2 L80.8 912.3 L81.1 912.3 L81.4 912.4 L81.7 912.5 L82.0 912.6 L82.3 912.6 L82.5 912.7 L82.8 912.8 L83.1 912.9 L83.4 913.0 L83.7 913.1 L84.0 913.2 L84.3 913.3 L84.6 913.4 L84.9 913.5 L85.2 913.6 L86.7 914.1 L88.1 914.7 L89.6 915.3 L91.1 915.9 L92.5 916.5 L94.0 917.2 L95.5 917.9 L96.9 918.6 L98.4 919.4 L99.9 920.3 L101.3 921.2 L102.8 922.1 L104.3 923.1 L105.8 924.1 L107.2 925.2 L108.7 926.2 L110.2 927.3 L111.6 928.4 L113.1 929.5 L114.6 930.6 L116.0 931.7 L117.5 932.8 L119.0 934.0 L120.4 935.1 L121.9 936.3 L123.4 937.5 L124.9 938.7 L126.3 940.0 L127.8 941.2 L129.3 942.4 L130.7 943.7 L132.2 944.9 L133.7 946.2 L135.1 947.4 L136.6 948.7 L138.1 950.0 L139.5 951.3 L141.0 952.5 L142.5 953.8 L143.9 955.1 L145.4 956.4 L146.9 957.7 L148.4 959.1 L149.8 960.5 L151.3 961.8 L152.8 963.3 L154.2 964.7 L155.7 966.2 L157.2 967.8 L158.6 969.3 L160.1 971.0 L161.6 972.6 L163.0 974.3 L164.5 976.1 L166.0 977.9 L167.5 979.7 L168.9 981.5 L170.4 983.3 L171.9 985.2 L173.3 987.0 L174.8 988.8 L176.3 990.7 L177.7 992.5 L179.2 994.3 L180.7 996.1 L182.1 997.8 L183.6 999.6 L185.1 1001.3 L186.6 1003.0 L188.0 1004.7 L189.5 1006.3 L191.0 1007.9 L192.4 1009.6 L193.9 1011.2 L195.4 1012.7 L196.8 1014.3 L198.3 1015.8 L199.8 1017.3 L201.2 1018.8 L202.7 1020.3 L204.2 1021.7 L205.6 1023.1 L207.1 1024.5 L208.6 1025.9 L210.1 1027.2 L211.5 1028.5 L213.0 1029.8 L214.5 1031.1 L215.9 1032.3 L217.4 1033.5 L218.9 1034.6 L220.3 1035.8 L221.8 1036.9 L223.3 1038.0 L224.7 1039.0 L226.2 1040.0 L227.7 1041.0 L229.2 1042.0 L230.6 1043.0 L232.1 1043.9 L233.6 1044.9 L235.0 1045.8 L236.5 1046.7 L238.0 1047.6 L239.4 1048.5 L240.9 1049.4 L242.4 1050.2 L243.8 1051.1 L245.3 1052.0 L246.8 1052.8 L248.2 1053.7 L249.7 1054.5 L251.2 1055.3 L252.7 1056.2 L254.1 1057.0 L255.6 1057.8 L257.1 1058.5 L258.5 1059.3 L260.0 1060.0 L261.5 1060.8 L262.9 1061.5 L264.4 1062.2 L265.9 1062.9 L267.3 1063.5 L268.8 1064.2 L270.3 1064.8 L271.8 1065.4 L273.2 1066.0 L274.7 1066.5 L276.2 1067.1 L277.6 1067.6 L279.1 1068.1 L280.6 1068.6 L282.0 1069.0 L283.5 1069.5 L285.0 1069.9 L286.4 1070.3 L287.9 1070.7 L289.4 1071.1 L290.9 1071.5 L292.3 1071.8 L293.8 1072.2 L295.3 1072.5 L296.7 1072.8 L298.2 1073.1 L299.7 1073.4 L301.1 1073.7 L302.6 1074.0 L304.1 1074.3 L305.5 1074.5 L307.0 1074.8 L308.5 1075.0 L309.9 1075.3 L311.4 1075.5 L312.9 1075.7 L314.4 1075.9 L315.8 1076.1 L317.3 1076.3 L318.8 1076.5 L320.2 1076.7 L321.7 1076.9 L323.2 1077.1 L324.6 1077.3 L326.1 1077.4 L327.6 1077.6 L329.0 1077.8 L330.5 1077.9 L332.0 1078.1 L333.5 1078.2 L334.9 1078.4 L336.4 1078.5 L337.9 1078.7 L339.3 1078.8 L340.8 1079.0 L342.3 1079.1 L343.7 1079.2 L345.2 1079.4 L346.7 1079.5 L348.1 1079.7 L349.6 1079.8 L351.1 1079.9 L352.5 1080.0 L354.0 1080.2 L355.5 1080.3 L357.0 1080.4 L358.4 1080.5 L359.9 1080.6 L361.4 1080.7 L362.8 1080.8 L364.3 1080.9 L365.8 1081.0 L367.2 1081.1 L368.7 1081.2 L370.2 1081.3 L371.6 1081.3 L373.1 1081.4 L374.6 1081.5 L376.1 1081.6 L377.5 1081.6 L379.0 1081.7 L380.5 1081.7 L381.9 1081.8 L383.4 1081.9 L384.9 1081.9 L386.3 1082.0 L387.8 1082.0 L389.3 1082.1 L390.7 1082.1 L392.2 1082.2 L393.7 1082.2 L401.0 1082.4 L408.4 1082.6 L415.7 1082.7 L423.1 1082.8 L430.4 1082.9 L437.8 1083.0 L445.1 1083.1 L452.4 1083.1 L459.8 1083.1 L467.1 1083.1 L474.5 1083.1 L481.8 1083.1 L489.2 1083.1 L496.5 1083.1 L503.9 1083.1 L511.2 1083.1" stroke="#e81ee8" stroke-width="1.7" stroke-dasharray="4.2 3.2"/>
<path d="M70.5 931.9 L70.8 932.0 L71.1 932.1 L71.4 932.3 L71.7 932.4 L72.0 932.5 L72.3 932.6 L72.6 932.7 L72.9 932.8 L73.1 932.8 L73.4 932.9 L73.7 933.0 L74.0 933.0 L74.3 933.0 L74.6 933.0 L74.9 933.0 L75.2 933.0 L75.5 933.0 L75.8 932.9 L76.1 932.8 L76.4 932.7 L76.7 932.5 L77.0 932.4 L77.3 932.2 L77.6 932.0 L77.8 931.8 L78.1 931.5 L78.4 931.3 L78.7 931.0 L79.0 930.7 L79.3 930.4 L79.6 930.1 L79.9 929.8 L80.2 929.5 L80.5 929.2 L80.8 928.8 L81.1 928.5 L81.4 928.2 L81.7 927.8 L82.0 927.5 L82.3 927.2 L82.5 926.9 L82.8 926.5 L83.1 926.2 L83.4 925.9 L83.7 925.7 L84.0 925.4 L84.3 925.1 L84.6 924.9 L84.9 924.7 L85.2 924.4 L86.7 923.7 L88.1 923.5 L89.6 923.7 L91.1 924.3 L92.5 924.9 L94.0 925.7 L95.5 926.7 L96.9 927.7 L98.4 928.9 L99.9 930.1 L101.3 931.4 L102.8 932.7 L104.3 934.1 L105.8 935.4 L107.2 936.7 L108.7 938.1 L110.2 939.4 L111.6 940.7 L113.1 941.9 L114.6 943.2 L116.0 944.4 L117.5 945.6 L119.0 946.9 L120.4 948.1 L121.9 949.2 L123.4 950.4 L124.9 951.6 L126.3 952.8 L127.8 953.9 L129.3 955.0 L130.7 956.2 L132.2 957.3 L133.7 958.4 L135.1 959.5 L136.6 960.6 L138.1 961.7 L139.5 962.8 L141.0 964.0 L142.5 965.1 L143.9 966.2 L145.4 967.4 L146.9 968.5 L148.4 969.7 L149.8 970.9 L151.3 972.1 L152.8 973.4 L154.2 974.6 L155.7 975.9 L157.2 977.2 L158.6 978.5 L160.1 979.7 L161.6 981.0 L163.0 982.3 L164.5 983.6 L166.0 984.9 L167.5 986.2 L168.9 987.5 L170.4 988.8 L171.9 990.1 L173.3 991.4 L174.8 992.7 L176.3 994.0 L177.7 995.3 L179.2 996.6 L180.7 997.9 L182.1 999.2 L183.6 1000.5 L185.1 1001.9 L186.6 1003.2 L188.0 1004.5 L189.5 1005.8 L191.0 1007.2 L192.4 1008.5 L193.9 1009.8 L195.4 1011.1 L196.8 1012.4 L198.3 1013.7 L199.8 1015.0 L201.2 1016.3 L202.7 1017.5 L204.2 1018.8 L205.6 1020.0 L207.1 1021.2 L208.6 1022.4 L210.1 1023.6 L211.5 1024.7 L213.0 1025.8 L214.5 1026.9 L215.9 1028.0 L217.4 1029.1 L218.9 1030.1 L220.3 1031.1 L221.8 1032.1 L223.3 1033.1 L224.7 1034.0 L226.2 1035.0 L227.7 1035.9 L229.2 1036.8 L230.6 1037.7 L232.1 1038.6 L233.6 1039.5 L235.0 1040.4 L236.5 1041.3 L238.0 1042.2 L239.4 1043.0 L240.9 1043.9 L242.4 1044.7 L243.8 1045.6 L245.3 1046.4 L246.8 1047.3 L248.2 1048.1 L249.7 1048.9 L251.2 1049.7 L252.7 1050.5 L254.1 1051.3 L255.6 1052.1 L257.1 1052.8 L258.5 1053.6 L260.0 1054.3 L261.5 1055.0 L262.9 1055.7 L264.4 1056.4 L265.9 1057.1 L267.3 1057.7 L268.8 1058.4 L270.3 1059.0 L271.8 1059.6 L273.2 1060.2 L274.7 1060.8 L276.2 1061.4 L277.6 1062.0 L279.1 1062.5 L280.6 1063.0 L282.0 1063.6 L283.5 1064.1 L285.0 1064.6 L286.4 1065.1 L287.9 1065.6 L289.4 1066.1 L290.9 1066.5 L292.3 1067.0 L293.8 1067.4 L295.3 1067.9 L296.7 1068.3 L298.2 1068.7 L299.7 1069.1 L301.1 1069.5 L302.6 1069.9 L304.1 1070.2 L305.5 1070.6 L307.0 1071.0 L308.5 1071.3 L309.9 1071.6 L311.4 1072.0 L312.9 1072.3 L314.4 1072.6 L315.8 1072.9 L317.3 1073.2 L318.8 1073.5 L320.2 1073.7 L321.7 1074.0 L323.2 1074.3 L324.6 1074.5 L326.1 1074.8 L327.6 1075.0 L329.0 1075.3 L330.5 1075.5 L332.0 1075.8 L333.5 1076.0 L334.9 1076.2 L336.4 1076.4 L337.9 1076.6 L339.3 1076.9 L340.8 1077.1 L342.3 1077.3 L343.7 1077.5 L345.2 1077.7 L346.7 1077.8 L348.1 1078.0 L349.6 1078.2 L351.1 1078.4 L352.5 1078.6 L354.0 1078.7 L355.5 1078.9 L357.0 1079.0 L358.4 1079.2 L359.9 1079.3 L361.4 1079.5 L362.8 1079.6 L364.3 1079.7 L365.8 1079.9 L367.2 1080.0 L368.7 1080.1 L370.2 1080.2 L371.6 1080.3 L373.1 1080.4 L374.6 1080.5 L376.1 1080.6 L377.5 1080.7 L379.0 1080.8 L380.5 1080.9 L381.9 1081.0 L383.4 1081.1 L384.9 1081.1 L386.3 1081.2 L387.8 1081.3 L389.3 1081.4 L390.7 1081.4 L392.2 1081.5 L393.7 1081.6 L401.0 1081.9 L408.4 1082.1 L415.7 1082.3 L423.1 1082.5 L430.4 1082.7 L437.8 1082.9 L445.1 1083.0 L452.4 1083.1 L459.8 1083.1 L467.1 1083.1 L474.5 1083.1 L481.8 1083.1 L489.2 1083.1 L496.5 1083.1 L503.9 1083.1 L511.2 1083.1" stroke="#1c741c" stroke-width="1.5" stroke-dasharray="5.8 2.5 1.8 2.2"/>
<path d="M386.3 1080.3 L393.7 1080.8 L401.0 1081.2 L408.4 1081.6 L415.7 1082.0 L423.1 1082.2 L430.4 1082.4 L437.8 1082.6 L445.1 1082.8 L452.4 1082.8 L459.8 1082.9 L467.1 1083.0 L474.5 1083.0 L481.8 1083.1 L489.2 1083.1 L496.5 1083.1 L503.9 1083.1 L511.2 1083.1" stroke="#14141e" stroke-width="1.7" stroke-opacity="0.72"/>
<path d="M71.4 879.9V872.8" stroke="#cc0512" stroke-width="2"/>
</g>
<g stroke="#1a1a1a" stroke-width="1.5" fill="none">
<rect x="70.5" y="786.5" width="440.7" height="326.29999999999995"/>
<path d="M70.50 1112.8v7.3M70.50 786.5v7.3M107.22 1112.8v4.2M107.22 786.5v4.2M143.95 1112.8v7.3M143.95 786.5v7.3M180.68 1112.8v4.2M180.68 786.5v4.2M217.40 1112.8v7.3M217.40 786.5v7.3M254.12 1112.8v4.2M254.12 786.5v4.2M290.85 1112.8v7.3M290.85 786.5v7.3M327.57 1112.8v4.2M327.57 786.5v4.2M364.30 1112.8v7.3M364.30 786.5v7.3M401.02 1112.8v4.2M401.02 786.5v4.2M437.75 1112.8v7.3M437.75 786.5v7.3M474.47 1112.8v4.2M474.47 786.5v4.2M511.20 1112.8v7.3M511.20 786.5v7.3M70.5 1112.80h-3.7M511.2 1112.80h-3.7M70.5 1083.14h-6.5M511.2 1083.14h-6.5M70.5 1053.47h-3.7M511.2 1053.47h-3.7M70.5 1023.81h-6.5M511.2 1023.81h-6.5M70.5 994.15h-3.7M511.2 994.15h-3.7M70.5 964.48h-6.5M511.2 964.48h-6.5M70.5 934.82h-3.7M511.2 934.82h-3.7M70.5 905.15h-6.5M511.2 905.15h-6.5M70.5 875.49h-3.7M511.2 875.49h-3.7M70.5 845.83h-6.5M511.2 845.83h-6.5M70.5 816.16h-3.7M511.2 816.16h-3.7M70.5 786.50h-6.5M511.2 786.50h-6.5" stroke-width="1.3"/>
</g>
<g font-size="14" text-anchor="middle">
<text x="70.5" y="1135.6">0</text>
<text x="143.9" y="1135.6">5</text>
<text x="217.4" y="1135.6">10</text>
<text x="290.9" y="1135.6">15</text>
<text x="364.3" y="1135.6">20</text>
<text x="437.8" y="1135.6">25</text>
<text x="511.2" y="1135.6">30</text>
</g>
<g font-size="13.9" text-anchor="end">
<text x="59" y="1087.4">0.00</text>
<text x="59" y="1028.1">0.02</text>
<text x="59" y="968.8">0.04</text>
<text x="59" y="909.5">0.06</text>
<text x="59" y="850.1">0.08</text>
<text x="59" y="790.8">0.10</text>
</g>
<text x="290.9" y="1156.8" font-size="17.4" text-anchor="middle">Electron energy (eV)</text>
<text transform="translate(17.7 942.7) rotate(-90)" font-size="17.3" text-anchor="middle">EEDF (eV<tspan font-size="10.7" dy="-9">-3/2</tspan><tspan dy="9">)</tspan></text>
<text x="92.6" y="813.5" font-size="16.9">(c) 50%CF<tspan font-size="10.4" dy="5.4">4</tspan></text>
<path d="M370.4 808.5H406.5" stroke="#000000" stroke-width="1.7" fill="none"/>
<text x="410.6" y="813.8" font-size="15.6">SF<tspan font-size="10.1" dy="5.8">6</tspan><tspan dy="-5.8"> - CF</tspan><tspan font-size="10.1" dy="5.8">4</tspan></text>
<path d="M370.4 832.2H406.5" stroke="#e3141e" stroke-width="1.7" fill="none" stroke-dasharray="8.6 7.5"/>
<text x="410.6" y="837.5" font-size="15.6">CF<tspan font-size="10.1" dy="5.8">3</tspan><tspan dy="-5.8">I</tspan> - CF<tspan font-size="10.1" dy="5.8">4</tspan></text>
<path d="M370.4 855.9H406.5" stroke="#1212c8" stroke-width="1.7" fill="none" stroke-dasharray="10 4 2.5 4"/>
<text x="410.6" y="861.2" font-size="15.6">C<tspan font-size="10.1" dy="5.8">2</tspan><tspan dy="-5.8">F</tspan><tspan font-size="10.1" dy="5.8">6</tspan><tspan dy="-5.8"> - CF</tspan><tspan font-size="10.1" dy="5.8">4</tspan></text>
<path d="M370.4 879.6H406.5" stroke="#e81ee8" stroke-width="1.7" fill="none" stroke-dasharray="4.4 3"/>
<text x="410.6" y="884.9" font-size="15.6">C<tspan font-size="10.1" dy="5.8">3</tspan><tspan dy="-5.8">F</tspan><tspan font-size="10.1" dy="5.8">8</tspan><tspan dy="-5.8"> - CF</tspan><tspan font-size="10.1" dy="5.8">4</tspan></text>
<path d="M370.4 903.3H406.5" stroke="#1c741c" stroke-width="1.7" fill="none" stroke-dasharray="6.2 2.8 1.8 2.2"/>
<text x="410.6" y="908.6" font-size="15.6">c-C<tspan font-size="10.1" dy="5.8">4</tspan><tspan dy="-5.8">F</tspan><tspan font-size="10.1" dy="5.8">8</tspan><tspan dy="-5.8"> - CF</tspan><tspan font-size="10.1" dy="5.8">4</tspan></text>
</g>
</svg>
</body></html>
